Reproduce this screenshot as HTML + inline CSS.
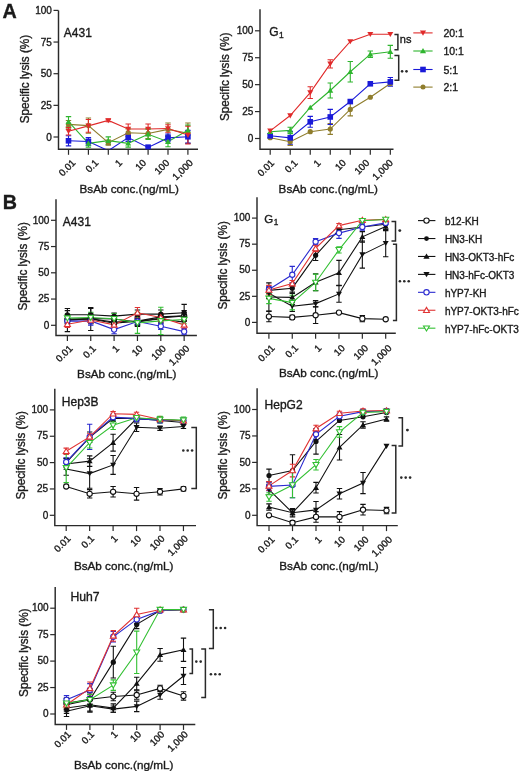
<!DOCTYPE html>
<html><head><meta charset="utf-8"><style>
html,body{margin:0;padding:0;background:#fff;}
svg{display:block;will-change:transform;}
svg text{font-family:"Liberation Sans", sans-serif;fill:#1a1a1a;stroke:#1a1a1a;stroke-width:0.35px;}
</style></head><body>
<svg width="520" height="771" viewBox="0 0 520 771">
<rect width="520" height="771" fill="#fff"/>
<path d="M58.5,10.4V149.3H198" fill="none" stroke="#2a2a2a" stroke-width="1.45"/>
<path d="M53.5,137H58.5" stroke="#2a2a2a" stroke-width="1.2"/>
<text x="51.9" y="140.6" text-anchor="end" font-size="10">0</text>
<path d="M53.5,105.35H58.5" stroke="#2a2a2a" stroke-width="1.2"/>
<text x="51.9" y="108.95" text-anchor="end" font-size="10">25</text>
<path d="M53.5,73.7H58.5" stroke="#2a2a2a" stroke-width="1.2"/>
<text x="51.9" y="77.3" text-anchor="end" font-size="10">50</text>
<path d="M53.5,42.05H58.5" stroke="#2a2a2a" stroke-width="1.2"/>
<text x="51.9" y="45.65" text-anchor="end" font-size="10">75</text>
<path d="M53.5,10.4H58.5" stroke="#2a2a2a" stroke-width="1.2"/>
<text x="51.9" y="14" text-anchor="end" font-size="10">100</text>
<path d="M68.5,149.3V154.8" stroke="#2a2a2a" stroke-width="1.2"/>
<path d="M88.4,149.3V154.8" stroke="#2a2a2a" stroke-width="1.2"/>
<path d="M108.3,149.3V154.8" stroke="#2a2a2a" stroke-width="1.2"/>
<path d="M128.2,149.3V154.8" stroke="#2a2a2a" stroke-width="1.2"/>
<path d="M148.1,149.3V154.8" stroke="#2a2a2a" stroke-width="1.2"/>
<path d="M168,149.3V154.8" stroke="#2a2a2a" stroke-width="1.2"/>
<path d="M187.9,149.3V154.8" stroke="#2a2a2a" stroke-width="1.2"/>
<text transform="translate(76,163.5) rotate(-45)" text-anchor="end" font-size="9.7">0.01</text>
<text transform="translate(99,163.5) rotate(-45)" text-anchor="end" font-size="9.7">0.1</text>
<text transform="translate(122.7,163.5) rotate(-45)" text-anchor="end" font-size="9.7">1</text>
<text transform="translate(146.9,163.5) rotate(-45)" text-anchor="end" font-size="9.7">10</text>
<text transform="translate(170,163.5) rotate(-45)" text-anchor="end" font-size="9.7">100</text>
<text transform="translate(193.5,163.5) rotate(-45)" text-anchor="end" font-size="9.7">1,000</text>
<text x="129.2" y="192.7" text-anchor="middle" font-size="11.7">BsAb conc.(ng/mL)</text>
<text transform="translate(28.8,79.05) rotate(-90)" text-anchor="middle" font-size="12" textLength="88.4" lengthAdjust="spacingAndGlyphs">Specific lysis (%)</text>
<text x="63.8" y="37" font-size="12">A431</text>
<clipPath id="c1"><rect x="58.5" y="0.4" width="149.5" height="148.9"/></clipPath>
<g clip-path="url(#c1)">
<polyline points="68.5,124.34 88.4,125.61 108.3,142.7 128.2,132.7 148.1,133.46 168,129.4 187.9,133.2" fill="none" stroke="#8f7d2c" stroke-width="1.1"/>
<polyline points="68.5,140.8 88.4,141.43 108.3,150.67 128.2,137.63 148.1,147.51 168,137.89 187.9,136.75" fill="none" stroke="#1a1ad8" stroke-width="1.1"/>
<polyline points="68.5,121.68 88.4,143.33 108.3,140.67 128.2,143.33 148.1,134.34 168,141.68 187.9,130.16" fill="none" stroke="#2fb52f" stroke-width="1.1"/>
<polyline points="68.5,131.18 88.4,125.86 108.3,120.42 128.2,129.02 148.1,129.02 168,128.52 187.9,135.1" fill="none" stroke="#e02a2a" stroke-width="1.1"/>
<path d="M68.5,120.54V128.14M65.8,120.54H71.2M65.8,128.14H71.2" stroke="#8f7d2c" stroke-width="1.1" fill="none"/>
<path d="M88.4,118.01V133.2M85.7,118.01H91.1M85.7,133.2H91.1" stroke="#8f7d2c" stroke-width="1.1" fill="none"/>
<path d="M108.3,140.16V145.23M105.6,140.16H111M105.6,145.23H111" stroke="#8f7d2c" stroke-width="1.1" fill="none"/>
<path d="M128.2,128.9V136.49M125.5,128.9H130.9M125.5,136.49H130.9" stroke="#8f7d2c" stroke-width="1.1" fill="none"/>
<path d="M148.1,128.39V138.52M145.4,128.39H150.8M145.4,138.52H150.8" stroke="#8f7d2c" stroke-width="1.1" fill="none"/>
<path d="M168,123.07V135.73M165.3,123.07H170.7M165.3,135.73H170.7" stroke="#8f7d2c" stroke-width="1.1" fill="none"/>
<path d="M187.9,123.07V143.33M185.2,123.07H190.6M185.2,143.33H190.6" stroke="#8f7d2c" stroke-width="1.1" fill="none"/>
<path d="M68.5,135.73V145.86M65.8,135.73H71.2M65.8,145.86H71.2" stroke="#1a1ad8" stroke-width="1.1" fill="none"/>
<path d="M88.4,137.63V145.23M85.7,137.63H91.1M85.7,145.23H91.1" stroke="#1a1ad8" stroke-width="1.1" fill="none"/>
<path d="M128.2,133.84V141.43M125.5,133.84H130.9M125.5,141.43H130.9" stroke="#1a1ad8" stroke-width="1.1" fill="none"/>
<path d="M148.1,144.98V150.04M145.4,144.98H150.8M145.4,150.04H150.8" stroke="#1a1ad8" stroke-width="1.1" fill="none"/>
<path d="M168,134.09V141.68M165.3,134.09H170.7M165.3,141.68H170.7" stroke="#1a1ad8" stroke-width="1.1" fill="none"/>
<path d="M187.9,130.42V143.08M185.2,130.42H190.6M185.2,143.08H190.6" stroke="#1a1ad8" stroke-width="1.1" fill="none"/>
<path d="M68.5,116.62V126.75M65.8,116.62H71.2M65.8,126.75H71.2" stroke="#2fb52f" stroke-width="1.1" fill="none"/>
<path d="M88.4,139.53V147.13M85.7,139.53H91.1M85.7,147.13H91.1" stroke="#2fb52f" stroke-width="1.1" fill="none"/>
<path d="M108.3,136.87V144.47M105.6,136.87H111M105.6,144.47H111" stroke="#2fb52f" stroke-width="1.1" fill="none"/>
<path d="M128.2,139.53V147.13M125.5,139.53H130.9M125.5,147.13H130.9" stroke="#2fb52f" stroke-width="1.1" fill="none"/>
<path d="M148.1,129.28V139.41M145.4,129.28H150.8M145.4,139.41H150.8" stroke="#2fb52f" stroke-width="1.1" fill="none"/>
<path d="M168,136.62V146.75M165.3,136.62H170.7M165.3,146.75H170.7" stroke="#2fb52f" stroke-width="1.1" fill="none"/>
<path d="M187.9,125.1V135.23M185.2,125.1H190.6M185.2,135.23H190.6" stroke="#2fb52f" stroke-width="1.1" fill="none"/>
<path d="M68.5,127.38V134.97M65.8,127.38H71.2M65.8,134.97H71.2" stroke="#e02a2a" stroke-width="1.1" fill="none"/>
<path d="M88.4,119.53V132.19M85.7,119.53H91.1M85.7,132.19H91.1" stroke="#e02a2a" stroke-width="1.1" fill="none"/>
<path d="M108.3,119.15V121.68M105.6,119.15H111M105.6,121.68H111" stroke="#e02a2a" stroke-width="1.1" fill="none"/>
<path d="M128.2,123.96V134.09M125.5,123.96H130.9M125.5,134.09H130.9" stroke="#e02a2a" stroke-width="1.1" fill="none"/>
<path d="M148.1,123.96V134.09M145.4,123.96H150.8M145.4,134.09H150.8" stroke="#e02a2a" stroke-width="1.1" fill="none"/>
<path d="M168,124.72V132.32M165.3,124.72H170.7M165.3,132.32H170.7" stroke="#e02a2a" stroke-width="1.1" fill="none"/>
<path d="M187.9,126.24V143.96M185.2,126.24H190.6M185.2,143.96H190.6" stroke="#e02a2a" stroke-width="1.1" fill="none"/>
<circle cx="68.5" cy="124.34" r="2.6" fill="#8f7d2c"/>
<circle cx="88.4" cy="125.61" r="2.6" fill="#8f7d2c"/>
<circle cx="108.3" cy="142.7" r="2.6" fill="#8f7d2c"/>
<circle cx="128.2" cy="132.7" r="2.6" fill="#8f7d2c"/>
<circle cx="148.1" cy="133.46" r="2.6" fill="#8f7d2c"/>
<circle cx="168" cy="129.4" r="2.6" fill="#8f7d2c"/>
<circle cx="187.9" cy="133.2" r="2.6" fill="#8f7d2c"/>
<rect x="65.7" y="138" width="5.6" height="5.6" fill="#1a1ad8"/>
<rect x="85.6" y="138.63" width="5.6" height="5.6" fill="#1a1ad8"/>
<rect x="125.4" y="134.83" width="5.6" height="5.6" fill="#1a1ad8"/>
<rect x="145.3" y="144.71" width="5.6" height="5.6" fill="#1a1ad8"/>
<rect x="165.2" y="135.09" width="5.6" height="5.6" fill="#1a1ad8"/>
<rect x="185.1" y="133.95" width="5.6" height="5.6" fill="#1a1ad8"/>
<path d="M65.5,123.93H71.5L68.5,118.83Z" fill="#2fb52f"/>
<path d="M85.4,145.58H91.4L88.4,140.48Z" fill="#2fb52f"/>
<path d="M105.3,142.92H111.3L108.3,137.82Z" fill="#2fb52f"/>
<path d="M125.2,145.58H131.2L128.2,140.48Z" fill="#2fb52f"/>
<path d="M145.1,136.59H151.1L148.1,131.49Z" fill="#2fb52f"/>
<path d="M165,143.93H171L168,138.83Z" fill="#2fb52f"/>
<path d="M184.9,132.41H190.9L187.9,127.31Z" fill="#2fb52f"/>
<path d="M65.5,128.93H71.5L68.5,134.03Z" fill="#e02a2a"/>
<path d="M85.4,123.61H91.4L88.4,128.71Z" fill="#e02a2a"/>
<path d="M105.3,118.17H111.3L108.3,123.27Z" fill="#e02a2a"/>
<path d="M125.2,126.77H131.2L128.2,131.87Z" fill="#e02a2a"/>
<path d="M145.1,126.77H151.1L148.1,131.87Z" fill="#e02a2a"/>
<path d="M165,126.27H171L168,131.37Z" fill="#e02a2a"/>
<path d="M184.9,132.85H190.9L187.9,137.95Z" fill="#e02a2a"/>
</g>
<path d="M260,9.26V149.3H393.5" fill="none" stroke="#2a2a2a" stroke-width="1.45"/>
<path d="M255,138.5H260" stroke="#2a2a2a" stroke-width="1.2"/>
<text x="253.4" y="142.1" text-anchor="end" font-size="10">0</text>
<path d="M255,111.58H260" stroke="#2a2a2a" stroke-width="1.2"/>
<text x="253.4" y="115.17" text-anchor="end" font-size="10">25</text>
<path d="M255,84.65H260" stroke="#2a2a2a" stroke-width="1.2"/>
<text x="253.4" y="88.25" text-anchor="end" font-size="10">50</text>
<path d="M255,57.73H260" stroke="#2a2a2a" stroke-width="1.2"/>
<text x="253.4" y="61.33" text-anchor="end" font-size="10">75</text>
<path d="M255,30.8H260" stroke="#2a2a2a" stroke-width="1.2"/>
<text x="253.4" y="34.4" text-anchor="end" font-size="10">100</text>
<path d="M270.2,149.3V154.8" stroke="#2a2a2a" stroke-width="1.2"/>
<path d="M290.22,149.3V154.8" stroke="#2a2a2a" stroke-width="1.2"/>
<path d="M310.24,149.3V154.8" stroke="#2a2a2a" stroke-width="1.2"/>
<path d="M330.26,149.3V154.8" stroke="#2a2a2a" stroke-width="1.2"/>
<path d="M350.28,149.3V154.8" stroke="#2a2a2a" stroke-width="1.2"/>
<path d="M370.3,149.3V154.8" stroke="#2a2a2a" stroke-width="1.2"/>
<path d="M390.32,149.3V154.8" stroke="#2a2a2a" stroke-width="1.2"/>
<text transform="translate(274.9,163.7) rotate(-45)" text-anchor="end" font-size="9.7">0.01</text>
<text transform="translate(298.3,163.7) rotate(-45)" text-anchor="end" font-size="9.7">0.1</text>
<text transform="translate(321.4,163.7) rotate(-45)" text-anchor="end" font-size="9.7">1</text>
<text transform="translate(346.6,163.5) rotate(-45)" text-anchor="end" font-size="9.7">10</text>
<text transform="translate(370,163.5) rotate(-45)" text-anchor="end" font-size="9.7">100</text>
<text transform="translate(393.5,163.5) rotate(-45)" text-anchor="end" font-size="9.7">1,000</text>
<text x="328.3" y="192.7" text-anchor="middle" font-size="11.7">BsAb conc.(ng/mL)</text>
<text transform="translate(229,76.9) rotate(-90)" text-anchor="middle" font-size="12" textLength="88.4" lengthAdjust="spacingAndGlyphs">Specific lysis (%)</text>
<text x="269.2" y="35.9" font-size="12">G<tspan font-size="8.5" dy="1.7" dx="0.5">1</tspan></text>
<clipPath id="c2"><rect x="260" y="-0.74" width="143.5" height="150.04"/></clipPath>
<g clip-path="url(#c2)">
<polyline points="270.2,137.75 290.22,141.73 310.24,131.71 330.26,129.02 350.28,109.42 370.3,97.25 390.32,83.57" fill="none" stroke="#8f7d2c" stroke-width="1.1"/>
<polyline points="270.2,135.81 290.22,137.85 310.24,121.81 330.26,116.96 350.28,101.56 370.3,83.79 390.32,81.85" fill="none" stroke="#1a1ad8" stroke-width="1.1"/>
<polyline points="270.2,131.71 290.22,130.42 310.24,107.48 330.26,90.47 350.28,71.73 370.3,54.17 390.32,51.8" fill="none" stroke="#2fb52f" stroke-width="1.1"/>
<polyline points="270.2,130.85 290.22,115.56 310.24,92.62 330.26,63.86 350.28,41.46 370.3,34.25 390.32,34.25" fill="none" stroke="#e02a2a" stroke-width="1.1"/>
<path d="M290.22,137.96V145.5M287.52,137.96H292.92M287.52,145.5H292.92" stroke="#8f7d2c" stroke-width="1.1" fill="none"/>
<path d="M330.26,123.64V134.41M327.56,123.64H332.96M327.56,134.41H332.96" stroke="#8f7d2c" stroke-width="1.1" fill="none"/>
<path d="M350.28,102.96V115.88M347.58,102.96H352.98M347.58,115.88H352.98" stroke="#8f7d2c" stroke-width="1.1" fill="none"/>
<path d="M270.2,133.65V137.96M267.5,133.65H272.9M267.5,137.96H272.9" stroke="#1a1ad8" stroke-width="1.1" fill="none"/>
<path d="M290.22,131.39V144.32M287.52,131.39H292.92M287.52,144.32H292.92" stroke="#1a1ad8" stroke-width="1.1" fill="none"/>
<path d="M310.24,116.42V127.19M307.54,116.42H312.94M307.54,127.19H312.94" stroke="#1a1ad8" stroke-width="1.1" fill="none"/>
<path d="M330.26,109.42V124.5M327.56,109.42H332.96M327.56,124.5H332.96" stroke="#1a1ad8" stroke-width="1.1" fill="none"/>
<path d="M390.32,77.54V86.16M387.62,77.54H393.02M387.62,86.16H393.02" stroke="#1a1ad8" stroke-width="1.1" fill="none"/>
<path d="M290.22,127.19V133.65M287.52,127.19H292.92M287.52,133.65H292.92" stroke="#2fb52f" stroke-width="1.1" fill="none"/>
<path d="M330.26,82.93V98M327.56,82.93H332.96M327.56,98H332.96" stroke="#2fb52f" stroke-width="1.1" fill="none"/>
<path d="M350.28,61.49V81.96M347.58,61.49H352.98M347.58,81.96H352.98" stroke="#2fb52f" stroke-width="1.1" fill="none"/>
<path d="M370.3,50.94V57.4M367.6,50.94H373M367.6,57.4H373" stroke="#2fb52f" stroke-width="1.1" fill="none"/>
<path d="M390.32,45.34V58.26M387.62,45.34H393.02M387.62,58.26H393.02" stroke="#2fb52f" stroke-width="1.1" fill="none"/>
<path d="M310.24,86.7V98.54M307.54,86.7H312.94M307.54,98.54H312.94" stroke="#e02a2a" stroke-width="1.1" fill="none"/>
<path d="M330.26,59.77V67.96M327.56,59.77H332.96M327.56,67.96H332.96" stroke="#e02a2a" stroke-width="1.1" fill="none"/>
<circle cx="270.2" cy="137.75" r="2.6" fill="#8f7d2c"/>
<circle cx="290.22" cy="141.73" r="2.6" fill="#8f7d2c"/>
<circle cx="310.24" cy="131.71" r="2.6" fill="#8f7d2c"/>
<circle cx="330.26" cy="129.02" r="2.6" fill="#8f7d2c"/>
<circle cx="350.28" cy="109.42" r="2.6" fill="#8f7d2c"/>
<circle cx="370.3" cy="97.25" r="2.6" fill="#8f7d2c"/>
<circle cx="390.32" cy="83.57" r="2.6" fill="#8f7d2c"/>
<rect x="267.4" y="133.01" width="5.6" height="5.6" fill="#1a1ad8"/>
<rect x="287.42" y="135.05" width="5.6" height="5.6" fill="#1a1ad8"/>
<rect x="307.44" y="119.01" width="5.6" height="5.6" fill="#1a1ad8"/>
<rect x="327.46" y="114.16" width="5.6" height="5.6" fill="#1a1ad8"/>
<rect x="347.48" y="98.76" width="5.6" height="5.6" fill="#1a1ad8"/>
<rect x="367.5" y="80.99" width="5.6" height="5.6" fill="#1a1ad8"/>
<rect x="387.52" y="79.05" width="5.6" height="5.6" fill="#1a1ad8"/>
<path d="M267.2,133.96H273.2L270.2,128.86Z" fill="#2fb52f"/>
<path d="M287.22,132.67H293.22L290.22,127.57Z" fill="#2fb52f"/>
<path d="M307.24,109.73H313.24L310.24,104.63Z" fill="#2fb52f"/>
<path d="M327.26,92.72H333.26L330.26,87.62Z" fill="#2fb52f"/>
<path d="M347.28,73.98H353.28L350.28,68.88Z" fill="#2fb52f"/>
<path d="M367.3,56.42H373.3L370.3,51.32Z" fill="#2fb52f"/>
<path d="M387.32,54.05H393.32L390.32,48.95Z" fill="#2fb52f"/>
<path d="M267.2,128.6H273.2L270.2,133.7Z" fill="#e02a2a"/>
<path d="M287.22,113.31H293.22L290.22,118.41Z" fill="#e02a2a"/>
<path d="M307.24,90.37H313.24L310.24,95.47Z" fill="#e02a2a"/>
<path d="M327.26,61.61H333.26L330.26,66.71Z" fill="#e02a2a"/>
<path d="M347.28,39.21H353.28L350.28,44.31Z" fill="#e02a2a"/>
<path d="M367.3,32H373.3L370.3,37.1Z" fill="#e02a2a"/>
<path d="M387.32,32H393.32L390.32,37.1Z" fill="#e02a2a"/>
</g>
<path d="M56,199.3V335.5H196.9" fill="none" stroke="#2a2a2a" stroke-width="1.45"/>
<path d="M51,325.3H56" stroke="#2a2a2a" stroke-width="1.2"/>
<text x="49.4" y="328.5" text-anchor="end" font-size="10">0</text>
<path d="M51,299.05H56" stroke="#2a2a2a" stroke-width="1.2"/>
<text x="49.4" y="302.25" text-anchor="end" font-size="10">25</text>
<path d="M51,272.8H56" stroke="#2a2a2a" stroke-width="1.2"/>
<text x="49.4" y="276" text-anchor="end" font-size="10">50</text>
<path d="M51,246.55H56" stroke="#2a2a2a" stroke-width="1.2"/>
<text x="49.4" y="249.75" text-anchor="end" font-size="10">75</text>
<path d="M51,220.3H56" stroke="#2a2a2a" stroke-width="1.2"/>
<text x="49.4" y="223.5" text-anchor="end" font-size="10">100</text>
<path d="M67.4,335.5V341" stroke="#2a2a2a" stroke-width="1.2"/>
<path d="M90.75,335.5V341" stroke="#2a2a2a" stroke-width="1.2"/>
<path d="M114.1,335.5V341" stroke="#2a2a2a" stroke-width="1.2"/>
<path d="M137.45,335.5V341" stroke="#2a2a2a" stroke-width="1.2"/>
<path d="M160.8,335.5V341" stroke="#2a2a2a" stroke-width="1.2"/>
<path d="M184.15,335.5V341" stroke="#2a2a2a" stroke-width="1.2"/>
<text transform="translate(73.2,349.2) rotate(-45)" text-anchor="end" font-size="9.7">0.01</text>
<text transform="translate(96.55,349.2) rotate(-45)" text-anchor="end" font-size="9.7">0.1</text>
<text transform="translate(119.9,349.2) rotate(-45)" text-anchor="end" font-size="9.7">1</text>
<text transform="translate(143.25,349.2) rotate(-45)" text-anchor="end" font-size="9.7">10</text>
<text transform="translate(166.6,349.2) rotate(-45)" text-anchor="end" font-size="9.7">100</text>
<text transform="translate(189.95,349.2) rotate(-45)" text-anchor="end" font-size="9.7">1,000</text>
<text x="126.8" y="378.2" text-anchor="middle" font-size="11.7">BsAb conc.(ng/mL)</text>
<text transform="translate(27,266.4) rotate(-90)" text-anchor="middle" font-size="12" textLength="88.4" lengthAdjust="spacingAndGlyphs">Specific lysis (%)</text>
<text x="62.8" y="225.6" font-size="12">A431</text>
<clipPath id="c3"><rect x="56" y="189.3" width="150.9" height="146.2"/></clipPath>
<g clip-path="url(#c3)">
<polyline points="67.4,320.05 90.75,319 114.1,323.2 137.45,321.1 160.8,316.9 184.15,315.85" fill="none" stroke="#111111" stroke-width="1.1"/>
<polyline points="67.4,314.8 90.75,314.8 114.1,316.17 137.45,314.17 160.8,314.17 184.15,312.81" fill="none" stroke="#111111" stroke-width="1.1"/>
<polyline points="67.4,319 90.75,318.48 114.1,319 137.45,322.15 160.8,317.95 184.15,315.85" fill="none" stroke="#111111" stroke-width="1.1"/>
<polyline points="67.4,320.16 90.75,318.79 114.1,322.15 137.45,321.1 160.8,319 184.15,322.15" fill="none" stroke="#111111" stroke-width="1.1"/>
<polyline points="67.4,321.1 90.75,320.89 114.1,329.61 137.45,321.52 160.8,326.25 184.15,331.6" fill="none" stroke="#2b2bd0" stroke-width="1.1"/>
<polyline points="67.4,324.25 90.75,320.05 114.1,324.88 137.45,312.81 160.8,317.53 184.15,324.88" fill="none" stroke="#e03333" stroke-width="1.1"/>
<polyline points="67.4,318.16 90.75,317.53 114.1,318.79 137.45,322.88 160.8,320.89 184.15,319.53" fill="none" stroke="#33c033" stroke-width="1.1"/>
<path d="M67.4,308.5V331.6M64.7,308.5H70.1M64.7,331.6H70.1" stroke="#111111" stroke-width="1.1" fill="none"/>
<path d="M90.75,307.45V330.55M88.05,307.45H93.45M88.05,330.55H93.45" stroke="#111111" stroke-width="1.1" fill="none"/>
<path d="M114.1,320.05V326.35M111.4,320.05H116.8M111.4,326.35H116.8" stroke="#111111" stroke-width="1.1" fill="none"/>
<path d="M137.45,316.9V325.3M134.75,316.9H140.15M134.75,325.3H140.15" stroke="#111111" stroke-width="1.1" fill="none"/>
<path d="M160.8,313.75V320.05M158.1,313.75H163.5M158.1,320.05H163.5" stroke="#111111" stroke-width="1.1" fill="none"/>
<path d="M184.15,312.7V319M181.45,312.7H186.85M181.45,319H186.85" stroke="#111111" stroke-width="1.1" fill="none"/>
<path d="M67.4,310.6V319M64.7,310.6H70.1M64.7,319H70.1" stroke="#111111" stroke-width="1.1" fill="none"/>
<path d="M90.75,308.5V321.1M88.05,308.5H93.45M88.05,321.1H93.45" stroke="#111111" stroke-width="1.1" fill="none"/>
<path d="M114.1,313.01V319.31M111.4,313.01H116.8M111.4,319.31H116.8" stroke="#111111" stroke-width="1.1" fill="none"/>
<path d="M137.45,309.97V318.37M134.75,309.97H140.15M134.75,318.37H140.15" stroke="#111111" stroke-width="1.1" fill="none"/>
<path d="M160.8,309.97V318.37M158.1,309.97H163.5M158.1,318.37H163.5" stroke="#111111" stroke-width="1.1" fill="none"/>
<path d="M184.15,304.41V321.2M181.45,304.41H186.85M181.45,321.2H186.85" stroke="#111111" stroke-width="1.1" fill="none"/>
<path d="M67.4,314.8V323.2M64.7,314.8H70.1M64.7,323.2H70.1" stroke="#111111" stroke-width="1.1" fill="none"/>
<path d="M90.75,313.23V323.73M88.05,313.23H93.45M88.05,323.73H93.45" stroke="#111111" stroke-width="1.1" fill="none"/>
<path d="M114.1,315.85V322.15M111.4,315.85H116.8M111.4,322.15H116.8" stroke="#111111" stroke-width="1.1" fill="none"/>
<path d="M137.45,317.95V326.35M134.75,317.95H140.15M134.75,326.35H140.15" stroke="#111111" stroke-width="1.1" fill="none"/>
<path d="M160.8,313.75V322.15M158.1,313.75H163.5M158.1,322.15H163.5" stroke="#111111" stroke-width="1.1" fill="none"/>
<path d="M184.15,310.6V321.1M181.45,310.6H186.85M181.45,321.1H186.85" stroke="#111111" stroke-width="1.1" fill="none"/>
<path d="M67.4,317V323.31M64.7,317H70.1M64.7,323.31H70.1" stroke="#111111" stroke-width="1.1" fill="none"/>
<path d="M90.75,314.59V322.99M88.05,314.59H93.45M88.05,322.99H93.45" stroke="#111111" stroke-width="1.1" fill="none"/>
<path d="M114.1,319V325.3M111.4,319H116.8M111.4,325.3H116.8" stroke="#111111" stroke-width="1.1" fill="none"/>
<path d="M137.45,316.9V325.3M134.75,316.9H140.15M134.75,325.3H140.15" stroke="#111111" stroke-width="1.1" fill="none"/>
<path d="M160.8,314.8V323.2M158.1,314.8H163.5M158.1,323.2H163.5" stroke="#111111" stroke-width="1.1" fill="none"/>
<path d="M184.15,317.95V326.35M181.45,317.95H186.85M181.45,326.35H186.85" stroke="#111111" stroke-width="1.1" fill="none"/>
<path d="M67.4,317.95V324.25M64.7,317.95H70.1M64.7,324.25H70.1" stroke="#2b2bd0" stroke-width="1.1" fill="none"/>
<path d="M90.75,316.69V325.09M88.05,316.69H93.45M88.05,325.09H93.45" stroke="#2b2bd0" stroke-width="1.1" fill="none"/>
<path d="M114.1,325.41V333.81M111.4,325.41H116.8M111.4,333.81H116.8" stroke="#2b2bd0" stroke-width="1.1" fill="none"/>
<path d="M137.45,318.37V324.67M134.75,318.37H140.15M134.75,324.67H140.15" stroke="#2b2bd0" stroke-width="1.1" fill="none"/>
<path d="M160.8,323.1V329.4M158.1,323.1H163.5M158.1,329.4H163.5" stroke="#2b2bd0" stroke-width="1.1" fill="none"/>
<path d="M184.15,328.45V334.75M181.45,328.45H186.85M181.45,334.75H186.85" stroke="#2b2bd0" stroke-width="1.1" fill="none"/>
<path d="M67.4,321.1V327.4M64.7,321.1H70.1M64.7,327.4H70.1" stroke="#e03333" stroke-width="1.1" fill="none"/>
<path d="M90.75,316.9V323.2M88.05,316.9H93.45M88.05,323.2H93.45" stroke="#e03333" stroke-width="1.1" fill="none"/>
<path d="M114.1,320.68V329.08M111.4,320.68H116.8M111.4,329.08H116.8" stroke="#e03333" stroke-width="1.1" fill="none"/>
<path d="M137.45,307.56V318.06M134.75,307.56H140.15M134.75,318.06H140.15" stroke="#e03333" stroke-width="1.1" fill="none"/>
<path d="M160.8,313.33V321.73M158.1,313.33H163.5M158.1,321.73H163.5" stroke="#e03333" stroke-width="1.1" fill="none"/>
<path d="M184.15,320.68V329.08M181.45,320.68H186.85M181.45,329.08H186.85" stroke="#e03333" stroke-width="1.1" fill="none"/>
<path d="M67.4,313.96V322.36M64.7,313.96H70.1M64.7,322.36H70.1" stroke="#33c033" stroke-width="1.1" fill="none"/>
<path d="M90.75,312.28V322.78M88.05,312.28H93.45M88.05,322.78H93.45" stroke="#33c033" stroke-width="1.1" fill="none"/>
<path d="M114.1,313.54V324.04M111.4,313.54H116.8M111.4,324.04H116.8" stroke="#33c033" stroke-width="1.1" fill="none"/>
<path d="M137.45,312.38V333.38M134.75,312.38H140.15M134.75,333.38H140.15" stroke="#33c033" stroke-width="1.1" fill="none"/>
<path d="M160.8,307.24V334.54M158.1,307.24H163.5M158.1,334.54H163.5" stroke="#33c033" stroke-width="1.1" fill="none"/>
<path d="M184.15,315.32V323.73M181.45,315.32H186.85M181.45,323.73H186.85" stroke="#33c033" stroke-width="1.1" fill="none"/>
<circle cx="67.4" cy="320.05" r="2.61" fill="#fff" stroke="#111111" stroke-width="1.1"/>
<circle cx="90.75" cy="319" r="2.61" fill="#fff" stroke="#111111" stroke-width="1.1"/>
<circle cx="114.1" cy="323.2" r="2.61" fill="#fff" stroke="#111111" stroke-width="1.1"/>
<circle cx="137.45" cy="321.1" r="2.61" fill="#fff" stroke="#111111" stroke-width="1.1"/>
<circle cx="160.8" cy="316.9" r="2.61" fill="#fff" stroke="#111111" stroke-width="1.1"/>
<circle cx="184.15" cy="315.85" r="2.61" fill="#fff" stroke="#111111" stroke-width="1.1"/>
<circle cx="67.4" cy="314.8" r="2.6" fill="#111111"/>
<circle cx="90.75" cy="314.8" r="2.6" fill="#111111"/>
<circle cx="114.1" cy="316.17" r="2.6" fill="#111111"/>
<circle cx="137.45" cy="314.17" r="2.6" fill="#111111"/>
<circle cx="160.8" cy="314.17" r="2.6" fill="#111111"/>
<circle cx="184.15" cy="312.81" r="2.6" fill="#111111"/>
<path d="M64.4,321.25H70.4L67.4,316.15Z" fill="#111111"/>
<path d="M87.75,320.73H93.75L90.75,315.62Z" fill="#111111"/>
<path d="M111.1,321.25H117.1L114.1,316.15Z" fill="#111111"/>
<path d="M134.45,324.4H140.45L137.45,319.3Z" fill="#111111"/>
<path d="M157.8,320.2H163.8L160.8,315.1Z" fill="#111111"/>
<path d="M181.15,318.1H187.15L184.15,313Z" fill="#111111"/>
<path d="M64.4,317.91H70.4L67.4,323.01Z" fill="#111111"/>
<path d="M87.75,316.54H93.75L90.75,321.64Z" fill="#111111"/>
<path d="M111.1,319.9H117.1L114.1,325Z" fill="#111111"/>
<path d="M134.45,318.85H140.45L137.45,323.95Z" fill="#111111"/>
<path d="M157.8,316.75H163.8L160.8,321.85Z" fill="#111111"/>
<path d="M181.15,319.9H187.15L184.15,325Z" fill="#111111"/>
<circle cx="67.4" cy="321.1" r="2.61" fill="#fff" stroke="#2b2bd0" stroke-width="1.1"/>
<circle cx="90.75" cy="320.89" r="2.61" fill="#fff" stroke="#2b2bd0" stroke-width="1.1"/>
<circle cx="114.1" cy="329.61" r="2.61" fill="#fff" stroke="#2b2bd0" stroke-width="1.1"/>
<circle cx="137.45" cy="321.52" r="2.61" fill="#fff" stroke="#2b2bd0" stroke-width="1.1"/>
<circle cx="160.8" cy="326.25" r="2.61" fill="#fff" stroke="#2b2bd0" stroke-width="1.1"/>
<circle cx="184.15" cy="331.6" r="2.61" fill="#fff" stroke="#2b2bd0" stroke-width="1.1"/>
<path d="M64.4,326.5H70.4L67.4,321.4Z" fill="#fff" stroke="#e03333" stroke-width="1.1"/>
<path d="M87.75,322.3H93.75L90.75,317.2Z" fill="#fff" stroke="#e03333" stroke-width="1.1"/>
<path d="M111.1,327.13H117.1L114.1,322.03Z" fill="#fff" stroke="#e03333" stroke-width="1.1"/>
<path d="M134.45,315.06H140.45L137.45,309.95Z" fill="#fff" stroke="#e03333" stroke-width="1.1"/>
<path d="M157.8,319.78H163.8L160.8,314.68Z" fill="#fff" stroke="#e03333" stroke-width="1.1"/>
<path d="M181.15,327.13H187.15L184.15,322.03Z" fill="#fff" stroke="#e03333" stroke-width="1.1"/>
<path d="M64.4,315.91H70.4L67.4,321.01Z" fill="#fff" stroke="#33c033" stroke-width="1.1"/>
<path d="M87.75,315.28H93.75L90.75,320.38Z" fill="#fff" stroke="#33c033" stroke-width="1.1"/>
<path d="M111.1,316.54H117.1L114.1,321.64Z" fill="#fff" stroke="#33c033" stroke-width="1.1"/>
<path d="M134.45,320.63H140.45L137.45,325.74Z" fill="#fff" stroke="#33c033" stroke-width="1.1"/>
<path d="M157.8,318.64H163.8L160.8,323.74Z" fill="#fff" stroke="#33c033" stroke-width="1.1"/>
<path d="M181.15,317.28H187.15L184.15,322.38Z" fill="#fff" stroke="#33c033" stroke-width="1.1"/>
</g>
<path d="M257,197.24V333.2H395.8" fill="none" stroke="#2a2a2a" stroke-width="1.45"/>
<path d="M252,322.4H257" stroke="#2a2a2a" stroke-width="1.2"/>
<text x="250.4" y="325.6" text-anchor="end" font-size="10">0</text>
<path d="M252,296.32H257" stroke="#2a2a2a" stroke-width="1.2"/>
<text x="250.4" y="299.52" text-anchor="end" font-size="10">25</text>
<path d="M252,270.25H257" stroke="#2a2a2a" stroke-width="1.2"/>
<text x="250.4" y="273.45" text-anchor="end" font-size="10">50</text>
<path d="M252,244.17H257" stroke="#2a2a2a" stroke-width="1.2"/>
<text x="250.4" y="247.37" text-anchor="end" font-size="10">75</text>
<path d="M252,218.1H257" stroke="#2a2a2a" stroke-width="1.2"/>
<text x="250.4" y="221.3" text-anchor="end" font-size="10">100</text>
<path d="M268.9,333.2V338.7" stroke="#2a2a2a" stroke-width="1.2"/>
<path d="M292.26,333.2V338.7" stroke="#2a2a2a" stroke-width="1.2"/>
<path d="M315.62,333.2V338.7" stroke="#2a2a2a" stroke-width="1.2"/>
<path d="M338.98,333.2V338.7" stroke="#2a2a2a" stroke-width="1.2"/>
<path d="M362.34,333.2V338.7" stroke="#2a2a2a" stroke-width="1.2"/>
<path d="M385.7,333.2V338.7" stroke="#2a2a2a" stroke-width="1.2"/>
<text transform="translate(275.4,348.8) rotate(-45)" text-anchor="end" font-size="9.7">0.01</text>
<text transform="translate(298.76,348.8) rotate(-45)" text-anchor="end" font-size="9.7">0.1</text>
<text transform="translate(322.12,348.8) rotate(-45)" text-anchor="end" font-size="9.7">1</text>
<text transform="translate(345.48,348.8) rotate(-45)" text-anchor="end" font-size="9.7">10</text>
<text transform="translate(368.84,348.8) rotate(-45)" text-anchor="end" font-size="9.7">100</text>
<text transform="translate(392.2,348.8) rotate(-45)" text-anchor="end" font-size="9.7">1,000</text>
<text x="328.6" y="377.2" text-anchor="middle" font-size="11.7">BsAb conc.(ng/mL)</text>
<text transform="translate(227.2,265.4) rotate(-90)" text-anchor="middle" font-size="12" textLength="88.4" lengthAdjust="spacingAndGlyphs">Specific lysis (%)</text>
<text x="264.2" y="223.4" font-size="11.5">G<tspan font-size="8.2" dy="2.0" dx="0.5">1</tspan></text>
<clipPath id="c4"><rect x="257" y="187.24" width="148.8" height="145.96"/></clipPath>
<g clip-path="url(#c4)">
<polyline points="268.9,316.56 292.26,317.39 315.62,315.2 338.98,312.6 362.34,318.65 385.7,319.27" fill="none" stroke="#111111" stroke-width="1.1"/>
<polyline points="268.9,290.38 292.26,288.19 315.62,255.34 338.98,229.68 362.34,226.97 385.7,224.25" fill="none" stroke="#111111" stroke-width="1.1"/>
<polyline points="268.9,296.95 292.26,297.37 315.62,282.24 338.98,272.86 362.34,236.87 385.7,226.44" fill="none" stroke="#111111" stroke-width="1.1"/>
<polyline points="268.9,293.2 292.26,306.23 315.62,303.63 338.98,293.93 362.34,254.6 385.7,243.13" fill="none" stroke="#111111" stroke-width="1.1"/>
<polyline points="268.9,289.55 292.26,274.73 315.62,241.78 338.98,233.12 362.34,226.97 385.7,222.9" fill="none" stroke="#2b2bd0" stroke-width="1.1"/>
<polyline points="268.9,290.07 292.26,283.6 315.62,248.45 338.98,225.61 362.34,220.19 385.7,219.35" fill="none" stroke="#e03333" stroke-width="1.1"/>
<polyline points="268.9,298.41 292.26,302.58 315.62,282.45 338.98,249.81 362.34,220.71 385.7,219.56" fill="none" stroke="#33c033" stroke-width="1.1"/>
<path d="M268.9,311.34V321.77M266.2,311.34H271.6M266.2,321.77H271.6" stroke="#111111" stroke-width="1.1" fill="none"/>
<path d="M292.26,315.31V319.48M289.56,315.31H294.96M289.56,319.48H294.96" stroke="#111111" stroke-width="1.1" fill="none"/>
<path d="M315.62,306.86V323.55M312.92,306.86H318.32M312.92,323.55H318.32" stroke="#111111" stroke-width="1.1" fill="none"/>
<path d="M362.34,315.52V321.77M359.64,315.52H365.04M359.64,321.77H365.04" stroke="#111111" stroke-width="1.1" fill="none"/>
<path d="M268.9,287.25V293.51M266.2,287.25H271.6M266.2,293.51H271.6" stroke="#111111" stroke-width="1.1" fill="none"/>
<path d="M292.26,282.97V293.4M289.56,282.97H294.96M289.56,293.4H294.96" stroke="#111111" stroke-width="1.1" fill="none"/>
<path d="M315.62,250.12V260.55M312.92,250.12H318.32M312.92,260.55H318.32" stroke="#111111" stroke-width="1.1" fill="none"/>
<path d="M268.9,282.87V311.03M266.2,282.87H271.6M266.2,311.03H271.6" stroke="#111111" stroke-width="1.1" fill="none"/>
<path d="M292.26,292.15V302.58M289.56,292.15H294.96M289.56,302.58H294.96" stroke="#111111" stroke-width="1.1" fill="none"/>
<path d="M315.62,273.9V290.59M312.92,273.9H318.32M312.92,290.59H318.32" stroke="#111111" stroke-width="1.1" fill="none"/>
<path d="M338.98,260.34V285.37M336.28,260.34H341.68M336.28,285.37H341.68" stroke="#111111" stroke-width="1.1" fill="none"/>
<path d="M362.34,231.66V242.09M359.64,231.66H365.04M359.64,242.09H365.04" stroke="#111111" stroke-width="1.1" fill="none"/>
<path d="M385.7,222.27V230.62M383,222.27H388.4M383,230.62H388.4" stroke="#111111" stroke-width="1.1" fill="none"/>
<path d="M268.9,287.98V298.41M266.2,287.98H271.6M266.2,298.41H271.6" stroke="#111111" stroke-width="1.1" fill="none"/>
<path d="M292.26,301.02V311.45M289.56,301.02H294.96M289.56,311.45H294.96" stroke="#111111" stroke-width="1.1" fill="none"/>
<path d="M315.62,300.5V306.75M312.92,300.5H318.32M312.92,306.75H318.32" stroke="#111111" stroke-width="1.1" fill="none"/>
<path d="M338.98,285.58V302.27M336.28,285.58H341.68M336.28,302.27H341.68" stroke="#111111" stroke-width="1.1" fill="none"/>
<path d="M362.34,241.05V268.16M359.64,241.05H365.04M359.64,268.16H365.04" stroke="#111111" stroke-width="1.1" fill="none"/>
<path d="M385.7,229.57V256.69M383,229.57H388.4M383,256.69H388.4" stroke="#111111" stroke-width="1.1" fill="none"/>
<path d="M268.9,286.42V292.67M266.2,286.42H271.6M266.2,292.67H271.6" stroke="#2b2bd0" stroke-width="1.1" fill="none"/>
<path d="M292.26,266.39V283.08M289.56,266.39H294.96M289.56,283.08H294.96" stroke="#2b2bd0" stroke-width="1.1" fill="none"/>
<path d="M315.62,238.65V244.91M312.92,238.65H318.32M312.92,244.91H318.32" stroke="#2b2bd0" stroke-width="1.1" fill="none"/>
<path d="M338.98,227.9V238.33M336.28,227.9H341.68M336.28,238.33H341.68" stroke="#2b2bd0" stroke-width="1.1" fill="none"/>
<path d="M362.34,223.84V230.09M359.64,223.84H365.04M359.64,230.09H365.04" stroke="#2b2bd0" stroke-width="1.1" fill="none"/>
<path d="M268.9,285.37V294.76M266.2,285.37H271.6M266.2,294.76H271.6" stroke="#e03333" stroke-width="1.1" fill="none"/>
<path d="M292.26,280.47V286.73M289.56,280.47H294.96M289.56,286.73H294.96" stroke="#e03333" stroke-width="1.1" fill="none"/>
<path d="M315.62,245.32V251.58M312.92,245.32H318.32M312.92,251.58H318.32" stroke="#e03333" stroke-width="1.1" fill="none"/>
<path d="M338.98,223.52V227.7M336.28,223.52H341.68M336.28,227.7H341.68" stroke="#e03333" stroke-width="1.1" fill="none"/>
<path d="M268.9,293.2V303.63M266.2,293.2H271.6M266.2,303.63H271.6" stroke="#33c033" stroke-width="1.1" fill="none"/>
<path d="M292.26,295.28V309.88M289.56,295.28H294.96M289.56,309.88H294.96" stroke="#33c033" stroke-width="1.1" fill="none"/>
<path d="M315.62,274.11V290.8M312.92,274.11H318.32M312.92,290.8H318.32" stroke="#33c033" stroke-width="1.1" fill="none"/>
<path d="M338.98,246.68V252.94M336.28,246.68H341.68M336.28,252.94H341.68" stroke="#33c033" stroke-width="1.1" fill="none"/>
<circle cx="268.9" cy="316.56" r="2.61" fill="#fff" stroke="#111111" stroke-width="1.1"/>
<circle cx="292.26" cy="317.39" r="2.61" fill="#fff" stroke="#111111" stroke-width="1.1"/>
<circle cx="315.62" cy="315.2" r="2.61" fill="#fff" stroke="#111111" stroke-width="1.1"/>
<circle cx="338.98" cy="312.6" r="2.61" fill="#fff" stroke="#111111" stroke-width="1.1"/>
<circle cx="362.34" cy="318.65" r="2.61" fill="#fff" stroke="#111111" stroke-width="1.1"/>
<circle cx="385.7" cy="319.27" r="2.61" fill="#fff" stroke="#111111" stroke-width="1.1"/>
<circle cx="268.9" cy="290.38" r="2.6" fill="#111111"/>
<circle cx="292.26" cy="288.19" r="2.6" fill="#111111"/>
<circle cx="315.62" cy="255.34" r="2.6" fill="#111111"/>
<circle cx="338.98" cy="229.68" r="2.6" fill="#111111"/>
<circle cx="362.34" cy="226.97" r="2.6" fill="#111111"/>
<circle cx="385.7" cy="224.25" r="2.6" fill="#111111"/>
<path d="M265.9,299.2H271.9L268.9,294.1Z" fill="#111111"/>
<path d="M289.26,299.62H295.26L292.26,294.52Z" fill="#111111"/>
<path d="M312.62,284.49H318.62L315.62,279.39Z" fill="#111111"/>
<path d="M335.98,275.11H341.98L338.98,270.01Z" fill="#111111"/>
<path d="M359.34,239.12H365.34L362.34,234.02Z" fill="#111111"/>
<path d="M382.7,228.69H388.7L385.7,223.59Z" fill="#111111"/>
<path d="M265.9,290.95H271.9L268.9,296.05Z" fill="#111111"/>
<path d="M289.26,303.98H295.26L292.26,309.08Z" fill="#111111"/>
<path d="M312.62,301.38H318.62L315.62,306.48Z" fill="#111111"/>
<path d="M335.98,291.68H341.98L338.98,296.78Z" fill="#111111"/>
<path d="M359.34,252.35H365.34L362.34,257.45Z" fill="#111111"/>
<path d="M382.7,240.88H388.7L385.7,245.98Z" fill="#111111"/>
<circle cx="268.9" cy="289.55" r="2.61" fill="#fff" stroke="#2b2bd0" stroke-width="1.1"/>
<circle cx="292.26" cy="274.73" r="2.61" fill="#fff" stroke="#2b2bd0" stroke-width="1.1"/>
<circle cx="315.62" cy="241.78" r="2.61" fill="#fff" stroke="#2b2bd0" stroke-width="1.1"/>
<circle cx="338.98" cy="233.12" r="2.61" fill="#fff" stroke="#2b2bd0" stroke-width="1.1"/>
<circle cx="362.34" cy="226.97" r="2.61" fill="#fff" stroke="#2b2bd0" stroke-width="1.1"/>
<circle cx="385.7" cy="222.9" r="2.61" fill="#fff" stroke="#2b2bd0" stroke-width="1.1"/>
<path d="M265.9,292.32H271.9L268.9,287.22Z" fill="#fff" stroke="#e03333" stroke-width="1.1"/>
<path d="M289.26,285.85H295.26L292.26,280.75Z" fill="#fff" stroke="#e03333" stroke-width="1.1"/>
<path d="M312.62,250.7H318.62L315.62,245.6Z" fill="#fff" stroke="#e03333" stroke-width="1.1"/>
<path d="M335.98,227.86H341.98L338.98,222.76Z" fill="#fff" stroke="#e03333" stroke-width="1.1"/>
<path d="M359.34,222.44H365.34L362.34,217.34Z" fill="#fff" stroke="#e03333" stroke-width="1.1"/>
<path d="M382.7,221.6H388.7L385.7,216.5Z" fill="#fff" stroke="#e03333" stroke-width="1.1"/>
<path d="M265.9,296.16H271.9L268.9,301.26Z" fill="#fff" stroke="#33c033" stroke-width="1.1"/>
<path d="M289.26,300.33H295.26L292.26,305.43Z" fill="#fff" stroke="#33c033" stroke-width="1.1"/>
<path d="M312.62,280.2H318.62L315.62,285.3Z" fill="#fff" stroke="#33c033" stroke-width="1.1"/>
<path d="M335.98,247.56H341.98L338.98,252.66Z" fill="#fff" stroke="#33c033" stroke-width="1.1"/>
<path d="M359.34,218.46H365.34L362.34,223.56Z" fill="#fff" stroke="#33c033" stroke-width="1.1"/>
<path d="M382.7,217.31H388.7L385.7,222.41Z" fill="#fff" stroke="#33c033" stroke-width="1.1"/>
</g>
<path d="M54.8,388.82V525.6H196" fill="none" stroke="#2a2a2a" stroke-width="1.45"/>
<path d="M49.8,515.3H54.8" stroke="#2a2a2a" stroke-width="1.2"/>
<text x="48.2" y="518.5" text-anchor="end" font-size="10">0</text>
<path d="M49.8,488.95H54.8" stroke="#2a2a2a" stroke-width="1.2"/>
<text x="48.2" y="492.15" text-anchor="end" font-size="10">25</text>
<path d="M49.8,462.6H54.8" stroke="#2a2a2a" stroke-width="1.2"/>
<text x="48.2" y="465.8" text-anchor="end" font-size="10">50</text>
<path d="M49.8,436.25H54.8" stroke="#2a2a2a" stroke-width="1.2"/>
<text x="48.2" y="439.45" text-anchor="end" font-size="10">75</text>
<path d="M49.8,409.9H54.8" stroke="#2a2a2a" stroke-width="1.2"/>
<text x="48.2" y="413.1" text-anchor="end" font-size="10">100</text>
<path d="M66.2,525.6V531.1" stroke="#2a2a2a" stroke-width="1.2"/>
<path d="M89.65,525.6V531.1" stroke="#2a2a2a" stroke-width="1.2"/>
<path d="M113.1,525.6V531.1" stroke="#2a2a2a" stroke-width="1.2"/>
<path d="M136.55,525.6V531.1" stroke="#2a2a2a" stroke-width="1.2"/>
<path d="M160,525.6V531.1" stroke="#2a2a2a" stroke-width="1.2"/>
<path d="M183.45,525.6V531.1" stroke="#2a2a2a" stroke-width="1.2"/>
<text transform="translate(71.4,539.3) rotate(-45)" text-anchor="end" font-size="9.7">0.01</text>
<text transform="translate(94.85,539.3) rotate(-45)" text-anchor="end" font-size="9.7">0.1</text>
<text transform="translate(118.3,539.3) rotate(-45)" text-anchor="end" font-size="9.7">1</text>
<text transform="translate(141.75,539.3) rotate(-45)" text-anchor="end" font-size="9.7">10</text>
<text transform="translate(165.2,539.3) rotate(-45)" text-anchor="end" font-size="9.7">100</text>
<text transform="translate(188.65,539.3) rotate(-45)" text-anchor="end" font-size="9.7">1,000</text>
<text x="123.6" y="569.8" text-anchor="middle" font-size="11.7">BsAb conc.(ng/mL)</text>
<text transform="translate(24.6,455.4) rotate(-90)" text-anchor="middle" font-size="12" textLength="88.4" lengthAdjust="spacingAndGlyphs">Specific lysis (%)</text>
<text x="61.8" y="405.8" font-size="12">Hep3B</text>
<clipPath id="c5"><rect x="54.8" y="378.82" width="151.2" height="146.78"/></clipPath>
<g clip-path="url(#c5)">
<polyline points="66.2,486.53 89.65,493.8 113.1,491.8 136.55,493.8 160,491.8 183.45,488.84" fill="none" stroke="#111111" stroke-width="1.1"/>
<polyline points="66.2,462.6 89.65,437.3 113.1,418.33 136.55,418.33 160,420.44 183.45,422.55" fill="none" stroke="#111111" stroke-width="1.1"/>
<polyline points="66.2,463.97 89.65,461.12 113.1,442.68 136.55,418.65 160,419.49 183.45,420.76" fill="none" stroke="#111111" stroke-width="1.1"/>
<polyline points="66.2,468.92 89.65,473.56 113.1,464.92 136.55,427.29 160,428.24 183.45,426.45" fill="none" stroke="#111111" stroke-width="1.1"/>
<polyline points="66.2,461.97 89.65,436.88 113.1,417.17 136.55,418.65 160,420.12 183.45,420.76" fill="none" stroke="#2b2bd0" stroke-width="1.1"/>
<polyline points="66.2,451.32 89.65,436.88 113.1,413.69 136.55,414.33 160,419.49 183.45,420.76" fill="none" stroke="#e03333" stroke-width="1.1"/>
<polyline points="66.2,467.87 89.65,442.68 113.1,425.29 136.55,417.8 160,419.49 183.45,420.12" fill="none" stroke="#33c033" stroke-width="1.1"/>
<path d="M89.65,489.58V498.01M86.95,489.58H92.35M86.95,498.01H92.35" stroke="#111111" stroke-width="1.1" fill="none"/>
<path d="M113.1,486.53V497.07M110.4,486.53H115.8M110.4,497.07H115.8" stroke="#111111" stroke-width="1.1" fill="none"/>
<path d="M136.55,487.47V500.12M133.85,487.47H139.25M133.85,500.12H139.25" stroke="#111111" stroke-width="1.1" fill="none"/>
<path d="M160,488.63V494.96M157.3,488.63H162.7M157.3,494.96H162.7" stroke="#111111" stroke-width="1.1" fill="none"/>
<path d="M183.45,486.74V490.95M180.75,486.74H186.15M180.75,490.95H186.15" stroke="#111111" stroke-width="1.1" fill="none"/>
<path d="M66.2,458.38V466.82M63.5,458.38H68.9M63.5,466.82H68.9" stroke="#111111" stroke-width="1.1" fill="none"/>
<path d="M89.65,432.03V442.57M86.95,432.03H92.35M86.95,442.57H92.35" stroke="#111111" stroke-width="1.1" fill="none"/>
<path d="M113.1,415.17V421.49M110.4,415.17H115.8M110.4,421.49H115.8" stroke="#111111" stroke-width="1.1" fill="none"/>
<path d="M136.55,416.22V420.44M133.85,416.22H139.25M133.85,420.44H139.25" stroke="#111111" stroke-width="1.1" fill="none"/>
<path d="M160,418.33V422.55M157.3,418.33H162.7M157.3,422.55H162.7" stroke="#111111" stroke-width="1.1" fill="none"/>
<path d="M183.45,420.44V424.66M180.75,420.44H186.15M180.75,424.66H186.15" stroke="#111111" stroke-width="1.1" fill="none"/>
<path d="M66.2,458.7V469.24M63.5,458.7H68.9M63.5,469.24H68.9" stroke="#111111" stroke-width="1.1" fill="none"/>
<path d="M89.65,455.85V466.39M86.95,455.85H92.35M86.95,466.39H92.35" stroke="#111111" stroke-width="1.1" fill="none"/>
<path d="M113.1,434.25V451.11M110.4,434.25H115.8M110.4,451.11H115.8" stroke="#111111" stroke-width="1.1" fill="none"/>
<path d="M136.55,415.49V421.81M133.85,415.49H139.25M133.85,421.81H139.25" stroke="#111111" stroke-width="1.1" fill="none"/>
<path d="M160,417.38V421.6M157.3,417.38H162.7M157.3,421.6H162.7" stroke="#111111" stroke-width="1.1" fill="none"/>
<path d="M183.45,418.65V422.86M180.75,418.65H186.15M180.75,422.86H186.15" stroke="#111111" stroke-width="1.1" fill="none"/>
<path d="M66.2,462.6V475.25M63.5,462.6H68.9M63.5,475.25H68.9" stroke="#111111" stroke-width="1.1" fill="none"/>
<path d="M89.65,458.81V488.32M86.95,458.81H92.35M86.95,488.32H92.35" stroke="#111111" stroke-width="1.1" fill="none"/>
<path d="M113.1,455.43V474.4M110.4,455.43H115.8M110.4,474.4H115.8" stroke="#111111" stroke-width="1.1" fill="none"/>
<path d="M136.55,423.07V431.51M133.85,423.07H139.25M133.85,431.51H139.25" stroke="#111111" stroke-width="1.1" fill="none"/>
<path d="M160,426.13V430.35M157.3,426.13H162.7M157.3,430.35H162.7" stroke="#111111" stroke-width="1.1" fill="none"/>
<path d="M183.45,424.34V428.56M180.75,424.34H186.15M180.75,428.56H186.15" stroke="#111111" stroke-width="1.1" fill="none"/>
<path d="M66.2,457.75V466.18M63.5,457.75H68.9M63.5,466.18H68.9" stroke="#2b2bd0" stroke-width="1.1" fill="none"/>
<path d="M89.65,424.23V449.53M86.95,424.23H92.35M86.95,449.53H92.35" stroke="#2b2bd0" stroke-width="1.1" fill="none"/>
<path d="M113.1,414.01V420.33M110.4,414.01H115.8M110.4,420.33H115.8" stroke="#2b2bd0" stroke-width="1.1" fill="none"/>
<path d="M136.55,415.49V421.81M133.85,415.49H139.25M133.85,421.81H139.25" stroke="#2b2bd0" stroke-width="1.1" fill="none"/>
<path d="M160,416.96V423.29M157.3,416.96H162.7M157.3,423.29H162.7" stroke="#2b2bd0" stroke-width="1.1" fill="none"/>
<path d="M183.45,417.59V423.92M180.75,417.59H186.15M180.75,423.92H186.15" stroke="#2b2bd0" stroke-width="1.1" fill="none"/>
<path d="M66.2,448.16V454.48M63.5,448.16H68.9M63.5,454.48H68.9" stroke="#e03333" stroke-width="1.1" fill="none"/>
<path d="M89.65,433.72V440.04M86.95,433.72H92.35M86.95,440.04H92.35" stroke="#e03333" stroke-width="1.1" fill="none"/>
<path d="M113.1,411.59V415.8M110.4,411.59H115.8M110.4,415.8H115.8" stroke="#e03333" stroke-width="1.1" fill="none"/>
<path d="M136.55,412.22V416.43M133.85,412.22H139.25M133.85,416.43H139.25" stroke="#e03333" stroke-width="1.1" fill="none"/>
<path d="M160,417.38V421.6M157.3,417.38H162.7M157.3,421.6H162.7" stroke="#e03333" stroke-width="1.1" fill="none"/>
<path d="M183.45,418.65V422.86M180.75,418.65H186.15M180.75,422.86H186.15" stroke="#e03333" stroke-width="1.1" fill="none"/>
<path d="M66.2,453.11V482.63M63.5,453.11H68.9M63.5,482.63H68.9" stroke="#33c033" stroke-width="1.1" fill="none"/>
<path d="M89.65,437.41V447.95M86.95,437.41H92.35M86.95,447.95H92.35" stroke="#33c033" stroke-width="1.1" fill="none"/>
<path d="M113.1,421.07V429.5M110.4,421.07H115.8M110.4,429.5H115.8" stroke="#33c033" stroke-width="1.1" fill="none"/>
<path d="M136.55,415.7V419.91M133.85,415.7H139.25M133.85,419.91H139.25" stroke="#33c033" stroke-width="1.1" fill="none"/>
<path d="M160,416.33V422.65M157.3,416.33H162.7M157.3,422.65H162.7" stroke="#33c033" stroke-width="1.1" fill="none"/>
<path d="M183.45,416.96V423.29M180.75,416.96H186.15M180.75,423.29H186.15" stroke="#33c033" stroke-width="1.1" fill="none"/>
<circle cx="66.2" cy="486.53" r="2.61" fill="#fff" stroke="#111111" stroke-width="1.1"/>
<circle cx="89.65" cy="493.8" r="2.61" fill="#fff" stroke="#111111" stroke-width="1.1"/>
<circle cx="113.1" cy="491.8" r="2.61" fill="#fff" stroke="#111111" stroke-width="1.1"/>
<circle cx="136.55" cy="493.8" r="2.61" fill="#fff" stroke="#111111" stroke-width="1.1"/>
<circle cx="160" cy="491.8" r="2.61" fill="#fff" stroke="#111111" stroke-width="1.1"/>
<circle cx="183.45" cy="488.84" r="2.61" fill="#fff" stroke="#111111" stroke-width="1.1"/>
<circle cx="66.2" cy="462.6" r="2.6" fill="#111111"/>
<circle cx="89.65" cy="437.3" r="2.6" fill="#111111"/>
<circle cx="113.1" cy="418.33" r="2.6" fill="#111111"/>
<circle cx="136.55" cy="418.33" r="2.6" fill="#111111"/>
<circle cx="160" cy="420.44" r="2.6" fill="#111111"/>
<circle cx="183.45" cy="422.55" r="2.6" fill="#111111"/>
<path d="M63.2,466.22H69.2L66.2,461.12Z" fill="#111111"/>
<path d="M86.65,463.37H92.65L89.65,458.27Z" fill="#111111"/>
<path d="M110.1,444.93H116.1L113.1,439.83Z" fill="#111111"/>
<path d="M133.55,420.9H139.55L136.55,415.8Z" fill="#111111"/>
<path d="M157,421.74H163L160,416.64Z" fill="#111111"/>
<path d="M180.45,423.01H186.45L183.45,417.91Z" fill="#111111"/>
<path d="M63.2,466.67H69.2L66.2,471.77Z" fill="#111111"/>
<path d="M86.65,471.31H92.65L89.65,476.41Z" fill="#111111"/>
<path d="M110.1,462.67H116.1L113.1,467.77Z" fill="#111111"/>
<path d="M133.55,425.04H139.55L136.55,430.14Z" fill="#111111"/>
<path d="M157,425.99H163L160,431.09Z" fill="#111111"/>
<path d="M180.45,424.2H186.45L183.45,429.3Z" fill="#111111"/>
<circle cx="66.2" cy="461.97" r="2.61" fill="#fff" stroke="#2b2bd0" stroke-width="1.1"/>
<circle cx="89.65" cy="436.88" r="2.61" fill="#fff" stroke="#2b2bd0" stroke-width="1.1"/>
<circle cx="113.1" cy="417.17" r="2.61" fill="#fff" stroke="#2b2bd0" stroke-width="1.1"/>
<circle cx="136.55" cy="418.65" r="2.61" fill="#fff" stroke="#2b2bd0" stroke-width="1.1"/>
<circle cx="160" cy="420.12" r="2.61" fill="#fff" stroke="#2b2bd0" stroke-width="1.1"/>
<circle cx="183.45" cy="420.76" r="2.61" fill="#fff" stroke="#2b2bd0" stroke-width="1.1"/>
<path d="M63.2,453.57H69.2L66.2,448.47Z" fill="#fff" stroke="#e03333" stroke-width="1.1"/>
<path d="M86.65,439.13H92.65L89.65,434.03Z" fill="#fff" stroke="#e03333" stroke-width="1.1"/>
<path d="M110.1,415.94H116.1L113.1,410.84Z" fill="#fff" stroke="#e03333" stroke-width="1.1"/>
<path d="M133.55,416.58H139.55L136.55,411.48Z" fill="#fff" stroke="#e03333" stroke-width="1.1"/>
<path d="M157,421.74H163L160,416.64Z" fill="#fff" stroke="#e03333" stroke-width="1.1"/>
<path d="M180.45,423.01H186.45L183.45,417.91Z" fill="#fff" stroke="#e03333" stroke-width="1.1"/>
<path d="M63.2,465.62H69.2L66.2,470.72Z" fill="#fff" stroke="#33c033" stroke-width="1.1"/>
<path d="M86.65,440.43H92.65L89.65,445.53Z" fill="#fff" stroke="#33c033" stroke-width="1.1"/>
<path d="M110.1,423.04H116.1L113.1,428.14Z" fill="#fff" stroke="#33c033" stroke-width="1.1"/>
<path d="M133.55,415.55H139.55L136.55,420.65Z" fill="#fff" stroke="#33c033" stroke-width="1.1"/>
<path d="M157,417.24H163L160,422.34Z" fill="#fff" stroke="#33c033" stroke-width="1.1"/>
<path d="M180.45,417.87H186.45L183.45,422.97Z" fill="#fff" stroke="#33c033" stroke-width="1.1"/>
</g>
<path d="M257.1,388.34V525.6H397.8" fill="none" stroke="#2a2a2a" stroke-width="1.45"/>
<path d="M252.1,515.3H257.1" stroke="#2a2a2a" stroke-width="1.2"/>
<text x="250.5" y="518.5" text-anchor="end" font-size="10">0</text>
<path d="M252.1,488.85H257.1" stroke="#2a2a2a" stroke-width="1.2"/>
<text x="250.5" y="492.05" text-anchor="end" font-size="10">25</text>
<path d="M252.1,462.4H257.1" stroke="#2a2a2a" stroke-width="1.2"/>
<text x="250.5" y="465.6" text-anchor="end" font-size="10">50</text>
<path d="M252.1,435.95H257.1" stroke="#2a2a2a" stroke-width="1.2"/>
<text x="250.5" y="439.15" text-anchor="end" font-size="10">75</text>
<path d="M252.1,409.5H257.1" stroke="#2a2a2a" stroke-width="1.2"/>
<text x="250.5" y="412.7" text-anchor="end" font-size="10">100</text>
<path d="M269,525.6V531.1" stroke="#2a2a2a" stroke-width="1.2"/>
<path d="M292.5,525.6V531.1" stroke="#2a2a2a" stroke-width="1.2"/>
<path d="M316,525.6V531.1" stroke="#2a2a2a" stroke-width="1.2"/>
<path d="M339.5,525.6V531.1" stroke="#2a2a2a" stroke-width="1.2"/>
<path d="M363,525.6V531.1" stroke="#2a2a2a" stroke-width="1.2"/>
<path d="M386.5,525.6V531.1" stroke="#2a2a2a" stroke-width="1.2"/>
<text transform="translate(275.2,540.2) rotate(-45)" text-anchor="end" font-size="9.7">0.01</text>
<text transform="translate(298.7,540.2) rotate(-45)" text-anchor="end" font-size="9.7">0.1</text>
<text transform="translate(322.2,540.2) rotate(-45)" text-anchor="end" font-size="9.7">1</text>
<text transform="translate(345.7,540.2) rotate(-45)" text-anchor="end" font-size="9.7">10</text>
<text transform="translate(369.2,540.2) rotate(-45)" text-anchor="end" font-size="9.7">100</text>
<text transform="translate(392.7,540.2) rotate(-45)" text-anchor="end" font-size="9.7">1,000</text>
<text x="329" y="569.8" text-anchor="middle" font-size="11.7">BsAb conc.(ng/mL)</text>
<text transform="translate(227.2,455.4) rotate(-90)" text-anchor="middle" font-size="12" textLength="88.4" lengthAdjust="spacingAndGlyphs">Specific lysis (%)</text>
<text x="264.6" y="409" font-size="12">HepG2</text>
<clipPath id="c6"><rect x="257.1" y="378.34" width="150.7" height="147.26"/></clipPath>
<g clip-path="url(#c6)">
<polyline points="269,515.3 292.5,522.71 316,516.89 339.5,516.89 363,509.69 386.5,510.54" fill="none" stroke="#111111" stroke-width="1.1"/>
<polyline points="269,475.52 292.5,470.55 316,441.45 339.5,420.4 363,416.8 386.5,412.57" fill="none" stroke="#111111" stroke-width="1.1"/>
<polyline points="269,507.05 292.5,512.76 316,487.69 339.5,447.27 363,424.95 386.5,419.02" fill="none" stroke="#111111" stroke-width="1.1"/>
<polyline points="269,489.59 292.5,512.76 316,509.9 339.5,493.72 363,483.03 386.5,446.11" fill="none" stroke="#111111" stroke-width="1.1"/>
<polyline points="269,486.42 292.5,485.04 316,434.26 339.5,416.27 363,411.62 386.5,410.98" fill="none" stroke="#2b2bd0" stroke-width="1.1"/>
<polyline points="269,485.89 292.5,470.55 316,428.44 339.5,413.31 363,410.98 386.5,410.56" fill="none" stroke="#e03333" stroke-width="1.1"/>
<polyline points="269,497 292.5,485.04 316,464.73 339.5,431.93 363,412.57 386.5,411.62" fill="none" stroke="#33c033" stroke-width="1.1"/>
<path d="M292.5,520.59V524.82M289.8,520.59H295.2M289.8,524.82H295.2" stroke="#111111" stroke-width="1.1" fill="none"/>
<path d="M316,511.6V522.18M313.3,511.6H318.7M313.3,522.18H318.7" stroke="#111111" stroke-width="1.1" fill="none"/>
<path d="M339.5,511.6V522.18M336.8,511.6H342.2M336.8,522.18H342.2" stroke="#111111" stroke-width="1.1" fill="none"/>
<path d="M363,504.4V514.98M360.3,504.4H365.7M360.3,514.98H365.7" stroke="#111111" stroke-width="1.1" fill="none"/>
<path d="M386.5,507.36V513.71M383.8,507.36H389.2M383.8,513.71H389.2" stroke="#111111" stroke-width="1.1" fill="none"/>
<path d="M269,469.17V481.87M266.3,469.17H271.7M266.3,481.87H271.7" stroke="#111111" stroke-width="1.1" fill="none"/>
<path d="M292.5,454.68V486.42M289.8,454.68H295.2M289.8,486.42H295.2" stroke="#111111" stroke-width="1.1" fill="none"/>
<path d="M316,428.76V454.15M313.3,428.76H318.7M313.3,454.15H318.7" stroke="#111111" stroke-width="1.1" fill="none"/>
<path d="M269,503.87V510.22M266.3,503.87H271.7M266.3,510.22H271.7" stroke="#111111" stroke-width="1.1" fill="none"/>
<path d="M292.5,509.59V515.93M289.8,509.59H295.2M289.8,515.93H295.2" stroke="#111111" stroke-width="1.1" fill="none"/>
<path d="M316,482.4V492.98M313.3,482.4H318.7M313.3,492.98H318.7" stroke="#111111" stroke-width="1.1" fill="none"/>
<path d="M339.5,434.57V459.97M336.8,434.57H342.2M336.8,459.97H342.2" stroke="#111111" stroke-width="1.1" fill="none"/>
<path d="M363,421.77V428.12M360.3,421.77H365.7M360.3,428.12H365.7" stroke="#111111" stroke-width="1.1" fill="none"/>
<path d="M386.5,416.91V421.14M383.8,416.91H389.2M383.8,421.14H389.2" stroke="#111111" stroke-width="1.1" fill="none"/>
<path d="M269,484.3V494.88M266.3,484.3H271.7M266.3,494.88H271.7" stroke="#111111" stroke-width="1.1" fill="none"/>
<path d="M292.5,508.53V516.99M289.8,508.53H295.2M289.8,516.99H295.2" stroke="#111111" stroke-width="1.1" fill="none"/>
<path d="M316,501.44V518.37M313.3,501.44H318.7M313.3,518.37H318.7" stroke="#111111" stroke-width="1.1" fill="none"/>
<path d="M339.5,488.43V499.01M336.8,488.43H342.2M336.8,499.01H342.2" stroke="#111111" stroke-width="1.1" fill="none"/>
<path d="M363,472.45V493.61M360.3,472.45H365.7M360.3,493.61H365.7" stroke="#111111" stroke-width="1.1" fill="none"/>
<path d="M269,482.18V490.65M266.3,482.18H271.7M266.3,490.65H271.7" stroke="#2b2bd0" stroke-width="1.1" fill="none"/>
<path d="M292.5,472.35V497.74M289.8,472.35H295.2M289.8,497.74H295.2" stroke="#2b2bd0" stroke-width="1.1" fill="none"/>
<path d="M316,428.97V439.55M313.3,428.97H318.7M313.3,439.55H318.7" stroke="#2b2bd0" stroke-width="1.1" fill="none"/>
<path d="M339.5,413.1V419.45M336.8,413.1H342.2M336.8,419.45H342.2" stroke="#2b2bd0" stroke-width="1.1" fill="none"/>
<path d="M363,409.5V413.73M360.3,409.5H365.7M360.3,413.73H365.7" stroke="#2b2bd0" stroke-width="1.1" fill="none"/>
<path d="M386.5,408.87V413.1M383.8,408.87H389.2M383.8,413.1H389.2" stroke="#2b2bd0" stroke-width="1.1" fill="none"/>
<path d="M269,481.66V490.12M266.3,481.66H271.7M266.3,490.12H271.7" stroke="#e03333" stroke-width="1.1" fill="none"/>
<path d="M292.5,464.2V476.89M289.8,464.2H295.2M289.8,476.89H295.2" stroke="#e03333" stroke-width="1.1" fill="none"/>
<path d="M316,425.26V431.61M313.3,425.26H318.7M313.3,431.61H318.7" stroke="#e03333" stroke-width="1.1" fill="none"/>
<path d="M339.5,411.19V415.42M336.8,411.19H342.2M336.8,415.42H342.2" stroke="#e03333" stroke-width="1.1" fill="none"/>
<path d="M363,408.87V413.1M360.3,408.87H365.7M360.3,413.1H365.7" stroke="#e03333" stroke-width="1.1" fill="none"/>
<path d="M386.5,408.44V412.67M383.8,408.44H389.2M383.8,412.67H389.2" stroke="#e03333" stroke-width="1.1" fill="none"/>
<path d="M269,492.76V501.23M266.3,492.76H271.7M266.3,501.23H271.7" stroke="#33c033" stroke-width="1.1" fill="none"/>
<path d="M292.5,472.35V497.74M289.8,472.35H295.2M289.8,497.74H295.2" stroke="#33c033" stroke-width="1.1" fill="none"/>
<path d="M316,459.44V470.02M313.3,459.44H318.7M313.3,470.02H318.7" stroke="#33c033" stroke-width="1.1" fill="none"/>
<path d="M339.5,426.64V437.22M336.8,426.64H342.2M336.8,437.22H342.2" stroke="#33c033" stroke-width="1.1" fill="none"/>
<path d="M363,410.45V414.68M360.3,410.45H365.7M360.3,414.68H365.7" stroke="#33c033" stroke-width="1.1" fill="none"/>
<path d="M386.5,409.5V413.73M383.8,409.5H389.2M383.8,413.73H389.2" stroke="#33c033" stroke-width="1.1" fill="none"/>
<circle cx="269" cy="515.3" r="2.61" fill="#fff" stroke="#111111" stroke-width="1.1"/>
<circle cx="292.5" cy="522.71" r="2.61" fill="#fff" stroke="#111111" stroke-width="1.1"/>
<circle cx="316" cy="516.89" r="2.61" fill="#fff" stroke="#111111" stroke-width="1.1"/>
<circle cx="339.5" cy="516.89" r="2.61" fill="#fff" stroke="#111111" stroke-width="1.1"/>
<circle cx="363" cy="509.69" r="2.61" fill="#fff" stroke="#111111" stroke-width="1.1"/>
<circle cx="386.5" cy="510.54" r="2.61" fill="#fff" stroke="#111111" stroke-width="1.1"/>
<circle cx="269" cy="475.52" r="2.6" fill="#111111"/>
<circle cx="292.5" cy="470.55" r="2.6" fill="#111111"/>
<circle cx="316" cy="441.45" r="2.6" fill="#111111"/>
<circle cx="339.5" cy="420.4" r="2.6" fill="#111111"/>
<circle cx="363" cy="416.8" r="2.6" fill="#111111"/>
<circle cx="386.5" cy="412.57" r="2.6" fill="#111111"/>
<path d="M266,509.3H272L269,504.2Z" fill="#111111"/>
<path d="M289.5,515.01H295.5L292.5,509.91Z" fill="#111111"/>
<path d="M313,489.94H319L316,484.84Z" fill="#111111"/>
<path d="M336.5,449.52H342.5L339.5,444.42Z" fill="#111111"/>
<path d="M360,427.2H366L363,422.1Z" fill="#111111"/>
<path d="M383.5,421.27H389.5L386.5,416.17Z" fill="#111111"/>
<path d="M266,487.34H272L269,492.44Z" fill="#111111"/>
<path d="M289.5,510.51H295.5L292.5,515.61Z" fill="#111111"/>
<path d="M313,507.65H319L316,512.75Z" fill="#111111"/>
<path d="M336.5,491.47H342.5L339.5,496.57Z" fill="#111111"/>
<path d="M360,480.78H366L363,485.88Z" fill="#111111"/>
<path d="M383.5,443.86H389.5L386.5,448.96Z" fill="#111111"/>
<circle cx="269" cy="486.42" r="2.61" fill="#fff" stroke="#2b2bd0" stroke-width="1.1"/>
<circle cx="292.5" cy="485.04" r="2.61" fill="#fff" stroke="#2b2bd0" stroke-width="1.1"/>
<circle cx="316" cy="434.26" r="2.61" fill="#fff" stroke="#2b2bd0" stroke-width="1.1"/>
<circle cx="339.5" cy="416.27" r="2.61" fill="#fff" stroke="#2b2bd0" stroke-width="1.1"/>
<circle cx="363" cy="411.62" r="2.61" fill="#fff" stroke="#2b2bd0" stroke-width="1.1"/>
<circle cx="386.5" cy="410.98" r="2.61" fill="#fff" stroke="#2b2bd0" stroke-width="1.1"/>
<path d="M266,488.14H272L269,483.04Z" fill="#fff" stroke="#e03333" stroke-width="1.1"/>
<path d="M289.5,472.8H295.5L292.5,467.7Z" fill="#fff" stroke="#e03333" stroke-width="1.1"/>
<path d="M313,430.69H319L316,425.59Z" fill="#fff" stroke="#e03333" stroke-width="1.1"/>
<path d="M336.5,415.56H342.5L339.5,410.46Z" fill="#fff" stroke="#e03333" stroke-width="1.1"/>
<path d="M360,413.23H366L363,408.13Z" fill="#fff" stroke="#e03333" stroke-width="1.1"/>
<path d="M383.5,412.81H389.5L386.5,407.71Z" fill="#fff" stroke="#e03333" stroke-width="1.1"/>
<path d="M266,494.75H272L269,499.85Z" fill="#fff" stroke="#33c033" stroke-width="1.1"/>
<path d="M289.5,482.79H295.5L292.5,487.89Z" fill="#fff" stroke="#33c033" stroke-width="1.1"/>
<path d="M313,462.48H319L316,467.58Z" fill="#fff" stroke="#33c033" stroke-width="1.1"/>
<path d="M336.5,429.68H342.5L339.5,434.78Z" fill="#fff" stroke="#33c033" stroke-width="1.1"/>
<path d="M360,410.32H366L363,415.42Z" fill="#fff" stroke="#33c033" stroke-width="1.1"/>
<path d="M383.5,409.37H389.5L386.5,414.47Z" fill="#fff" stroke="#33c033" stroke-width="1.1"/>
</g>
<path d="M55.2,587.04V724.4H195.3" fill="none" stroke="#2a2a2a" stroke-width="1.45"/>
<path d="M50.2,714H55.2" stroke="#2a2a2a" stroke-width="1.2"/>
<text x="48.6" y="717.2" text-anchor="end" font-size="10">0</text>
<path d="M50.2,687.55H55.2" stroke="#2a2a2a" stroke-width="1.2"/>
<text x="48.6" y="690.75" text-anchor="end" font-size="10">25</text>
<path d="M50.2,661.1H55.2" stroke="#2a2a2a" stroke-width="1.2"/>
<text x="48.6" y="664.3" text-anchor="end" font-size="10">50</text>
<path d="M50.2,634.65H55.2" stroke="#2a2a2a" stroke-width="1.2"/>
<text x="48.6" y="637.85" text-anchor="end" font-size="10">75</text>
<path d="M50.2,608.2H55.2" stroke="#2a2a2a" stroke-width="1.2"/>
<text x="48.6" y="611.4" text-anchor="end" font-size="10">100</text>
<path d="M66.5,724.4V729.9" stroke="#2a2a2a" stroke-width="1.2"/>
<path d="M89.9,724.4V729.9" stroke="#2a2a2a" stroke-width="1.2"/>
<path d="M113.3,724.4V729.9" stroke="#2a2a2a" stroke-width="1.2"/>
<path d="M136.7,724.4V729.9" stroke="#2a2a2a" stroke-width="1.2"/>
<path d="M160.1,724.4V729.9" stroke="#2a2a2a" stroke-width="1.2"/>
<path d="M183.5,724.4V729.9" stroke="#2a2a2a" stroke-width="1.2"/>
<text transform="translate(71.5,735) rotate(-45)" text-anchor="end" font-size="9.7">0.01</text>
<text transform="translate(94.9,735) rotate(-45)" text-anchor="end" font-size="9.7">0.1</text>
<text transform="translate(118.3,735) rotate(-45)" text-anchor="end" font-size="9.7">1</text>
<text transform="translate(141.7,735) rotate(-45)" text-anchor="end" font-size="9.7">10</text>
<text transform="translate(165.1,735) rotate(-45)" text-anchor="end" font-size="9.7">100</text>
<text transform="translate(188.5,735) rotate(-45)" text-anchor="end" font-size="9.7">1,000</text>
<text x="123.6" y="768.8" text-anchor="middle" font-size="11.7">BsAb conc.(ng/mL)</text>
<text transform="translate(28,652.7) rotate(-90)" text-anchor="middle" font-size="12" textLength="88.4" lengthAdjust="spacingAndGlyphs">Specific lysis (%)</text>
<text x="70.4" y="600.9" font-size="12.2">Huh7</text>
<clipPath id="c7"><rect x="55.2" y="577.04" width="150.1" height="147.36"/></clipPath>
<g clip-path="url(#c7)">
<polyline points="66.5,703.21 89.9,699.29 113.3,696.54 136.7,694.96 160.1,688.4 183.5,695.91" fill="none" stroke="#111111" stroke-width="1.1"/>
<polyline points="66.5,704.8 89.9,699.82 113.3,662.16 136.7,624.39 160.1,610.63 183.5,609.58" fill="none" stroke="#111111" stroke-width="1.1"/>
<polyline points="66.5,708.08 89.9,704.8 113.3,708.08 136.7,683.53 160.1,654.86 183.5,649.78" fill="none" stroke="#111111" stroke-width="1.1"/>
<polyline points="66.5,711.25 89.9,705.75 113.3,709.13 136.7,706.38 160.1,694.96 183.5,676.02" fill="none" stroke="#111111" stroke-width="1.1"/>
<polyline points="66.5,699.82 89.9,689.98 113.3,636.77 136.7,619.41 160.1,610.63 183.5,609.58" fill="none" stroke="#2b2bd0" stroke-width="1.1"/>
<polyline points="66.5,704.8 89.9,688.4 113.3,635.92 136.7,614.55 160.1,609.58 183.5,609.58" fill="none" stroke="#e03333" stroke-width="1.1"/>
<polyline points="66.5,703.21 89.9,699.82 113.3,685.12 136.7,652.32 160.1,609.58 183.5,609.58" fill="none" stroke="#33c033" stroke-width="1.1"/>
<path d="M66.5,697.92V708.5M63.8,697.92H69.2M63.8,708.5H69.2" stroke="#111111" stroke-width="1.1" fill="none"/>
<path d="M89.9,694V704.58M87.2,694H92.6M87.2,704.58H92.6" stroke="#111111" stroke-width="1.1" fill="none"/>
<path d="M113.3,692.31V700.77M110.6,692.31H116M110.6,700.77H116" stroke="#111111" stroke-width="1.1" fill="none"/>
<path d="M136.7,690.72V699.19M134,690.72H139.4M134,699.19H139.4" stroke="#111111" stroke-width="1.1" fill="none"/>
<path d="M160.1,685.22V691.57M157.4,685.22H162.8M157.4,691.57H162.8" stroke="#111111" stroke-width="1.1" fill="none"/>
<path d="M183.5,691.68V700.14M180.8,691.68H186.2M180.8,700.14H186.2" stroke="#111111" stroke-width="1.1" fill="none"/>
<path d="M66.5,698.45V711.14M63.8,698.45H69.2M63.8,711.14H69.2" stroke="#111111" stroke-width="1.1" fill="none"/>
<path d="M89.9,692.42V707.23M87.2,692.42H92.6M87.2,707.23H92.6" stroke="#111111" stroke-width="1.1" fill="none"/>
<path d="M113.3,646.29V678.03M110.6,646.29H116M110.6,678.03H116" stroke="#111111" stroke-width="1.1" fill="none"/>
<path d="M136.7,620.16V628.62M134,620.16H139.4M134,628.62H139.4" stroke="#111111" stroke-width="1.1" fill="none"/>
<path d="M66.5,702.79V713.37M63.8,702.79H69.2M63.8,713.37H69.2" stroke="#111111" stroke-width="1.1" fill="none"/>
<path d="M89.9,698.45V711.14M87.2,698.45H92.6M87.2,711.14H92.6" stroke="#111111" stroke-width="1.1" fill="none"/>
<path d="M113.3,703.84V712.31M110.6,703.84H116M110.6,712.31H116" stroke="#111111" stroke-width="1.1" fill="none"/>
<path d="M136.7,677.18V689.88M134,677.18H139.4M134,689.88H139.4" stroke="#111111" stroke-width="1.1" fill="none"/>
<path d="M160.1,648.51V661.21M157.4,648.51H162.8M157.4,661.21H162.8" stroke="#111111" stroke-width="1.1" fill="none"/>
<path d="M183.5,638.14V661.42M180.8,638.14H186.2M180.8,661.42H186.2" stroke="#111111" stroke-width="1.1" fill="none"/>
<path d="M66.5,705.96V716.54M63.8,705.96H69.2M63.8,716.54H69.2" stroke="#111111" stroke-width="1.1" fill="none"/>
<path d="M89.9,699.4V712.1M87.2,699.4H92.6M87.2,712.1H92.6" stroke="#111111" stroke-width="1.1" fill="none"/>
<path d="M113.3,705.96V712.31M110.6,705.96H116M110.6,712.31H116" stroke="#111111" stroke-width="1.1" fill="none"/>
<path d="M136.7,701.09V711.67M134,701.09H139.4M134,711.67H139.4" stroke="#111111" stroke-width="1.1" fill="none"/>
<path d="M160.1,690.72V699.19M157.4,690.72H162.8M157.4,699.19H162.8" stroke="#111111" stroke-width="1.1" fill="none"/>
<path d="M183.5,667.55V684.48M180.8,667.55H186.2M180.8,684.48H186.2" stroke="#111111" stroke-width="1.1" fill="none"/>
<path d="M66.5,695.59V704.05M63.8,695.59H69.2M63.8,704.05H69.2" stroke="#2b2bd0" stroke-width="1.1" fill="none"/>
<path d="M89.9,683.64V696.33M87.2,683.64H92.6M87.2,696.33H92.6" stroke="#2b2bd0" stroke-width="1.1" fill="none"/>
<path d="M113.3,631.48V642.06M110.6,631.48H116M110.6,642.06H116" stroke="#2b2bd0" stroke-width="1.1" fill="none"/>
<path d="M136.7,615.18V623.65M134,615.18H139.4M134,623.65H139.4" stroke="#2b2bd0" stroke-width="1.1" fill="none"/>
<path d="M160.1,608.52V612.75M157.4,608.52H162.8M157.4,612.75H162.8" stroke="#2b2bd0" stroke-width="1.1" fill="none"/>
<path d="M66.5,700.56V709.03M63.8,700.56H69.2M63.8,709.03H69.2" stroke="#e03333" stroke-width="1.1" fill="none"/>
<path d="M89.9,682.05V694.74M87.2,682.05H92.6M87.2,694.74H92.6" stroke="#e03333" stroke-width="1.1" fill="none"/>
<path d="M113.3,630.63V641.21M110.6,630.63H116M110.6,641.21H116" stroke="#e03333" stroke-width="1.1" fill="none"/>
<path d="M136.7,608.2V620.9M134,608.2H139.4M134,620.9H139.4" stroke="#e03333" stroke-width="1.1" fill="none"/>
<path d="M160.1,607.46V611.69M157.4,607.46H162.8M157.4,611.69H162.8" stroke="#e03333" stroke-width="1.1" fill="none"/>
<path d="M183.5,607.46V611.69M180.8,607.46H186.2M180.8,611.69H186.2" stroke="#e03333" stroke-width="1.1" fill="none"/>
<path d="M66.5,698.98V707.44M63.8,698.98H69.2M63.8,707.44H69.2" stroke="#33c033" stroke-width="1.1" fill="none"/>
<path d="M89.9,694.53V705.11M87.2,694.53H92.6M87.2,705.11H92.6" stroke="#33c033" stroke-width="1.1" fill="none"/>
<path d="M113.3,679.83V690.41M110.6,679.83H116M110.6,690.41H116" stroke="#33c033" stroke-width="1.1" fill="none"/>
<path d="M136.7,631.16V673.48M134,631.16H139.4M134,673.48H139.4" stroke="#33c033" stroke-width="1.1" fill="none"/>
<path d="M160.1,607.46V611.69M157.4,607.46H162.8M157.4,611.69H162.8" stroke="#33c033" stroke-width="1.1" fill="none"/>
<path d="M183.5,607.46V611.69M180.8,607.46H186.2M180.8,611.69H186.2" stroke="#33c033" stroke-width="1.1" fill="none"/>
<circle cx="66.5" cy="703.21" r="2.61" fill="#fff" stroke="#111111" stroke-width="1.1"/>
<circle cx="89.9" cy="699.29" r="2.61" fill="#fff" stroke="#111111" stroke-width="1.1"/>
<circle cx="113.3" cy="696.54" r="2.61" fill="#fff" stroke="#111111" stroke-width="1.1"/>
<circle cx="136.7" cy="694.96" r="2.61" fill="#fff" stroke="#111111" stroke-width="1.1"/>
<circle cx="160.1" cy="688.4" r="2.61" fill="#fff" stroke="#111111" stroke-width="1.1"/>
<circle cx="183.5" cy="695.91" r="2.61" fill="#fff" stroke="#111111" stroke-width="1.1"/>
<circle cx="66.5" cy="704.8" r="2.6" fill="#111111"/>
<circle cx="89.9" cy="699.82" r="2.6" fill="#111111"/>
<circle cx="113.3" cy="662.16" r="2.6" fill="#111111"/>
<circle cx="136.7" cy="624.39" r="2.6" fill="#111111"/>
<circle cx="160.1" cy="610.63" r="2.6" fill="#111111"/>
<circle cx="183.5" cy="609.58" r="2.6" fill="#111111"/>
<path d="M63.5,710.33H69.5L66.5,705.23Z" fill="#111111"/>
<path d="M86.9,707.05H92.9L89.9,701.95Z" fill="#111111"/>
<path d="M110.3,710.33H116.3L113.3,705.23Z" fill="#111111"/>
<path d="M133.7,685.78H139.7L136.7,680.68Z" fill="#111111"/>
<path d="M157.1,657.11H163.1L160.1,652.01Z" fill="#111111"/>
<path d="M180.5,652.03H186.5L183.5,646.93Z" fill="#111111"/>
<path d="M63.5,709H69.5L66.5,714.1Z" fill="#111111"/>
<path d="M86.9,703.5H92.9L89.9,708.6Z" fill="#111111"/>
<path d="M110.3,706.88H116.3L113.3,711.98Z" fill="#111111"/>
<path d="M133.7,704.13H139.7L136.7,709.23Z" fill="#111111"/>
<path d="M157.1,692.71H163.1L160.1,697.81Z" fill="#111111"/>
<path d="M180.5,673.77H186.5L183.5,678.87Z" fill="#111111"/>
<circle cx="66.5" cy="699.82" r="2.61" fill="#fff" stroke="#2b2bd0" stroke-width="1.1"/>
<circle cx="89.9" cy="689.98" r="2.61" fill="#fff" stroke="#2b2bd0" stroke-width="1.1"/>
<circle cx="113.3" cy="636.77" r="2.61" fill="#fff" stroke="#2b2bd0" stroke-width="1.1"/>
<circle cx="136.7" cy="619.41" r="2.61" fill="#fff" stroke="#2b2bd0" stroke-width="1.1"/>
<circle cx="160.1" cy="610.63" r="2.61" fill="#fff" stroke="#2b2bd0" stroke-width="1.1"/>
<circle cx="183.5" cy="609.58" r="2.61" fill="#fff" stroke="#2b2bd0" stroke-width="1.1"/>
<path d="M63.5,707.05H69.5L66.5,701.95Z" fill="#fff" stroke="#e03333" stroke-width="1.1"/>
<path d="M86.9,690.65H92.9L89.9,685.55Z" fill="#fff" stroke="#e03333" stroke-width="1.1"/>
<path d="M110.3,638.17H116.3L113.3,633.07Z" fill="#fff" stroke="#e03333" stroke-width="1.1"/>
<path d="M133.7,616.8H139.7L136.7,611.7Z" fill="#fff" stroke="#e03333" stroke-width="1.1"/>
<path d="M157.1,611.83H163.1L160.1,606.73Z" fill="#fff" stroke="#e03333" stroke-width="1.1"/>
<path d="M180.5,611.83H186.5L183.5,606.73Z" fill="#fff" stroke="#e03333" stroke-width="1.1"/>
<path d="M63.5,700.96H69.5L66.5,706.06Z" fill="#fff" stroke="#33c033" stroke-width="1.1"/>
<path d="M86.9,697.57H92.9L89.9,702.67Z" fill="#fff" stroke="#33c033" stroke-width="1.1"/>
<path d="M110.3,682.87H116.3L113.3,687.97Z" fill="#fff" stroke="#33c033" stroke-width="1.1"/>
<path d="M133.7,650.07H139.7L136.7,655.17Z" fill="#fff" stroke="#33c033" stroke-width="1.1"/>
<path d="M157.1,607.33H163.1L160.1,612.43Z" fill="#fff" stroke="#33c033" stroke-width="1.1"/>
<path d="M180.5,607.33H186.5L183.5,612.43Z" fill="#fff" stroke="#33c033" stroke-width="1.1"/>
</g>
<path d="M413.3,32.9H432.6" stroke="#e02a2a" stroke-width="1.1"/>
<path d="M419.9,30.57H426.1L423,35.84Z" fill="#e02a2a"/>
<text x="443.4" y="37.2" font-size="10.5">20:1</text>
<path d="M413.3,51H432.6" stroke="#2fb52f" stroke-width="1.1"/>
<path d="M419.9,53.33H426.1L423,48.05Z" fill="#2fb52f"/>
<text x="443.4" y="55.3" font-size="10.5">10:1</text>
<path d="M413.3,69.5H432.6" stroke="#1a1ad8" stroke-width="1.1"/>
<rect x="420.2" y="66.7" width="5.6" height="5.6" fill="#1a1ad8"/>
<text x="443.4" y="73.8" font-size="10.5">5:1</text>
<path d="M413.3,87.1H432.6" stroke="#8f7d2c" stroke-width="1.1"/>
<circle cx="423" cy="87.1" r="2.5" fill="#8f7d2c"/>
<text x="443.4" y="91.4" font-size="10.5">2:1</text>
<path d="M418,220.6H435.4" stroke="#111111" stroke-width="1.1"/>
<circle cx="426.5" cy="220.6" r="2.66" fill="#fff" stroke="#111111" stroke-width="1.1"/>
<text x="444.9" y="225.2" font-size="10">b12-KH</text>
<path d="M418,238.53H435.4" stroke="#111111" stroke-width="1.1"/>
<circle cx="426.5" cy="238.53" r="2.4" fill="#111111"/>
<text x="444.9" y="243.13" font-size="10">HN3-KH</text>
<path d="M418,256.46H435.4" stroke="#111111" stroke-width="1.1"/>
<path d="M423.4,258.78H429.6L426.5,253.51Z" fill="#111111"/>
<text x="444.9" y="261.06" font-size="10">HN3-OKT3-hFc</text>
<path d="M418,274.39H435.4" stroke="#111111" stroke-width="1.1"/>
<path d="M423.4,272.06H429.6L426.5,277.33Z" fill="#111111"/>
<text x="444.9" y="278.99" font-size="10">HN3-hFc-OKT3</text>
<path d="M418,292.32H435.4" stroke="#2b2bd0" stroke-width="1.1"/>
<circle cx="426.5" cy="292.32" r="2.66" fill="#fff" stroke="#2b2bd0" stroke-width="1.1"/>
<text x="444.9" y="296.92" font-size="10">hYP7-KH</text>
<path d="M418,310.25H435.4" stroke="#e03333" stroke-width="1.1"/>
<path d="M423.5,312.5H429.5L426.5,307.4Z" fill="#fff" stroke="#e03333" stroke-width="1.1"/>
<text x="444.9" y="314.85" font-size="10">hYP7-OKT3-hFc</text>
<path d="M418,328.18H435.4" stroke="#33c033" stroke-width="1.1"/>
<path d="M423.5,325.93H429.5L426.5,331.03Z" fill="#fff" stroke="#33c033" stroke-width="1.1"/>
<text x="444.9" y="332.78" font-size="10">hYP7-hFc-OKT3</text>
<text x="2.6" y="17.7" font-size="19.7" font-weight="bold">A</text>
<text x="2.7" y="208.7" font-size="19.7" font-weight="bold">B</text>
<path d="M394.4,34.4H397.9V49.8H394.4" fill="none" stroke="#2a2a2a" stroke-width="1.5"/>
<text x="399.8" y="43.3" font-size="11">ns</text>
<path d="M394.4,55.5H398.7V80.3H394.4" fill="none" stroke="#2a2a2a" stroke-width="1.5"/>
<circle cx="402.1" cy="71.35" r="1.3" fill="#2a2a2a"/><circle cx="406.5" cy="71.35" r="1.3" fill="#2a2a2a"/>
<path d="M391.5,221.6H395.5V241.1H391.5" fill="none" stroke="#2a2a2a" stroke-width="1.5"/>
<circle cx="399.8" cy="230.6" r="1.45" fill="#2a2a2a"/>
<path d="M392.9,244.3H396.4V320.4H392.9" fill="none" stroke="#2a2a2a" stroke-width="1.5"/>
<circle cx="399.9" cy="281.2" r="1.3" fill="#2a2a2a"/><circle cx="404.3" cy="281.2" r="1.3" fill="#2a2a2a"/><circle cx="408.7" cy="281.2" r="1.3" fill="#2a2a2a"/>
<path d="M191.3,427.4H196.3V488.5H191.3" fill="none" stroke="#2a2a2a" stroke-width="1.5"/>
<circle cx="183.3" cy="450.5" r="1.3" fill="#2a2a2a"/><circle cx="187.7" cy="450.5" r="1.3" fill="#2a2a2a"/><circle cx="192.1" cy="450.5" r="1.3" fill="#2a2a2a"/>
<path d="M398.4,417.7H402.4V445.9H398.4" fill="none" stroke="#2a2a2a" stroke-width="1.5"/>
<circle cx="407.4" cy="430.1" r="1.45" fill="#2a2a2a"/>
<path d="M391.6,445.6H395.8V513.1H391.6" fill="none" stroke="#2a2a2a" stroke-width="1.5"/>
<circle cx="401.3" cy="477.6" r="1.3" fill="#2a2a2a"/><circle cx="405.7" cy="477.6" r="1.3" fill="#2a2a2a"/><circle cx="410.1" cy="477.6" r="1.3" fill="#2a2a2a"/>
<path d="M208.9,609.8H213.3V648.6H208.9" fill="none" stroke="#2a2a2a" stroke-width="1.5"/>
<circle cx="216.3" cy="628" r="1.3" fill="#2a2a2a"/><circle cx="220.7" cy="628" r="1.3" fill="#2a2a2a"/><circle cx="225.1" cy="628" r="1.3" fill="#2a2a2a"/>
<path d="M189.4,648.9H192.4V673.4H189.4" fill="none" stroke="#2a2a2a" stroke-width="1.5"/>
<circle cx="196.3" cy="661.6" r="1.3" fill="#2a2a2a"/><circle cx="200.7" cy="661.6" r="1.3" fill="#2a2a2a"/>
<path d="M201.2,648.9H205.4V697.5H201.2" fill="none" stroke="#2a2a2a" stroke-width="1.5"/>
<circle cx="210.9" cy="674.2" r="1.3" fill="#2a2a2a"/><circle cx="215.3" cy="674.2" r="1.3" fill="#2a2a2a"/><circle cx="219.7" cy="674.2" r="1.3" fill="#2a2a2a"/>
</svg>
</body></html>
